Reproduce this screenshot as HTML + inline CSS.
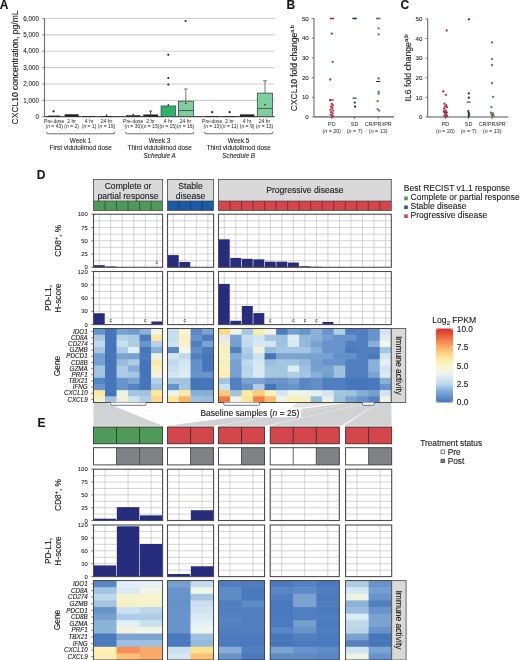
<!DOCTYPE html>
<html><head><meta charset="utf-8"><title>Figure</title>
<style>
html,body{margin:0;padding:0;background:#fff;}
body{width:520px;height:660px;overflow:hidden;}
svg{display:block;}
svg text{font-family:"Liberation Sans", Arial, Helvetica, sans-serif;fill:#231f20;}
svg text.b{fill:#1a1718;stroke:#1a1718;stroke-width:0.1px;}
svg text.m{fill:#1a1718;stroke:#1a1718;stroke-width:0.06px;}
</style></head><body>
<svg width="520" height="660" viewBox="0 0 520 660">
<rect width="520" height="660" fill="#ffffff"/>
<text x="-0.30" y="9.00" font-size="12" font-weight="bold" class="b" >A</text>
<line x1="44.50" y1="100.33" x2="274.60" y2="100.33" stroke="#d0d0d0" stroke-width="1.1" />
<line x1="44.50" y1="83.97" x2="274.60" y2="83.97" stroke="#d0d0d0" stroke-width="1.1" />
<line x1="44.50" y1="67.60" x2="274.60" y2="67.60" stroke="#d0d0d0" stroke-width="1.1" />
<line x1="44.50" y1="51.23" x2="274.60" y2="51.23" stroke="#d0d0d0" stroke-width="1.1" />
<line x1="44.50" y1="34.87" x2="274.60" y2="34.87" stroke="#d0d0d0" stroke-width="1.1" />
<line x1="44.50" y1="18.50" x2="274.60" y2="18.50" stroke="#d0d0d0" stroke-width="1.1" />
<line x1="44.50" y1="18.30" x2="44.50" y2="116.70" stroke="#6d6e71" stroke-width="1.1" />
<line x1="42.30" y1="116.70" x2="44.50" y2="116.70" stroke="#6d6e71" stroke-width="0.9" />
<text x="38.90" y="118.90" font-size="6.3" text-anchor="end" class="m" >0</text>
<line x1="42.30" y1="100.33" x2="44.50" y2="100.33" stroke="#6d6e71" stroke-width="0.9" />
<text x="38.90" y="102.53" font-size="6.3" text-anchor="end" class="m" >1,000</text>
<line x1="42.30" y1="83.97" x2="44.50" y2="83.97" stroke="#6d6e71" stroke-width="0.9" />
<text x="38.90" y="86.17" font-size="6.3" text-anchor="end" class="m" >2,000</text>
<line x1="42.30" y1="67.60" x2="44.50" y2="67.60" stroke="#6d6e71" stroke-width="0.9" />
<text x="38.90" y="69.80" font-size="6.3" text-anchor="end" class="m" >3,000</text>
<line x1="42.30" y1="51.23" x2="44.50" y2="51.23" stroke="#6d6e71" stroke-width="0.9" />
<text x="38.90" y="53.43" font-size="6.3" text-anchor="end" class="m" >4,000</text>
<line x1="42.30" y1="34.87" x2="44.50" y2="34.87" stroke="#6d6e71" stroke-width="0.9" />
<text x="38.90" y="37.07" font-size="6.3" text-anchor="end" class="m" >5,000</text>
<line x1="42.30" y1="18.50" x2="44.50" y2="18.50" stroke="#6d6e71" stroke-width="0.9" />
<text x="38.90" y="20.70" font-size="6.3" text-anchor="end" class="m" >6,000</text>
<line x1="44.50" y1="116.70" x2="274.60" y2="116.70" stroke="#4d4d4f" stroke-width="1.3" />
<text x="18.40" y="67.50" font-size="8.5" text-anchor="middle" transform="rotate(-90 18.40 67.50)" class="b" >CXCL10 concentration, pg/mL</text>
<text x="54.20" y="122.60" font-size="5" text-anchor="middle" >Pre-dose</text>
<text x="54.20" y="128.30" font-size="5" text-anchor="middle" >(<tspan font-style="italic">n</tspan> = 43)</text>
<text x="71.65" y="122.60" font-size="5" text-anchor="middle" >2 hr</text>
<text x="71.65" y="128.30" font-size="5" text-anchor="middle" >(<tspan font-style="italic">n</tspan> = 2)</text>
<text x="89.10" y="122.60" font-size="5" text-anchor="middle" >4 hr</text>
<text x="89.10" y="128.30" font-size="5" text-anchor="middle" >(<tspan font-style="italic">n</tspan> = 1)</text>
<text x="106.55" y="122.60" font-size="5" text-anchor="middle" >24 hr</text>
<text x="106.55" y="128.30" font-size="5" text-anchor="middle" >(<tspan font-style="italic">n</tspan> = 19)</text>
<path d="M46.50 131.8 Q46.50 133.8 48.50 133.8 L112.80 133.8 Q114.80 133.8 114.80 131.8" fill="none" stroke="#58595b" stroke-width="0.9"/>
<text x="133.20" y="122.60" font-size="5" text-anchor="middle" >Pre-dose</text>
<text x="133.20" y="128.30" font-size="5" text-anchor="middle" >(<tspan font-style="italic">n</tspan> = 30)</text>
<text x="150.65" y="122.60" font-size="5" text-anchor="middle" >2 hr</text>
<text x="150.65" y="128.30" font-size="5" text-anchor="middle" >(<tspan font-style="italic">n</tspan> = 15)</text>
<text x="168.10" y="122.60" font-size="5" text-anchor="middle" >4 hr</text>
<text x="168.10" y="128.30" font-size="5" text-anchor="middle" >(<tspan font-style="italic">n</tspan> = 15)</text>
<text x="185.55" y="122.60" font-size="5" text-anchor="middle" >24 hr</text>
<text x="185.55" y="128.30" font-size="5" text-anchor="middle" >(<tspan font-style="italic">n</tspan> = 16)</text>
<path d="M125.50 131.8 Q125.50 133.8 127.50 133.8 L191.80 133.8 Q193.80 133.8 193.80 131.8" fill="none" stroke="#58595b" stroke-width="0.9"/>
<text x="212.20" y="122.60" font-size="5" text-anchor="middle" >Pre-dose</text>
<text x="212.20" y="128.30" font-size="5" text-anchor="middle" >(<tspan font-style="italic">n</tspan> = 13)</text>
<text x="229.65" y="122.60" font-size="5" text-anchor="middle" >2 hr</text>
<text x="229.65" y="128.30" font-size="5" text-anchor="middle" >(<tspan font-style="italic">n</tspan> = 11)</text>
<text x="247.10" y="122.60" font-size="5" text-anchor="middle" >4 hr</text>
<text x="247.10" y="128.30" font-size="5" text-anchor="middle" >(<tspan font-style="italic">n</tspan> = 9)</text>
<text x="264.55" y="122.60" font-size="5" text-anchor="middle" >24 hr</text>
<text x="264.55" y="128.30" font-size="5" text-anchor="middle" >(<tspan font-style="italic">n</tspan> = 13)</text>
<path d="M204.50 131.8 Q204.50 133.8 206.50 133.8 L270.80 133.8 Q272.80 133.8 272.80 131.8" fill="none" stroke="#58595b" stroke-width="0.9"/>
<text x="80.65" y="142.50" font-size="6.4" text-anchor="middle" class="m" >Week 1</text>
<text x="80.65" y="150.00" font-size="6.4" text-anchor="middle" class="m" >First vidutolimod dose</text>
<text x="159.65" y="142.50" font-size="6.4" text-anchor="middle" class="m" >Week 3</text>
<text x="159.65" y="150.00" font-size="6.4" text-anchor="middle" class="m" >Third vidutolimod dose</text>
<text x="159.65" y="157.90" font-size="6.4" text-anchor="middle" font-style="italic" class="m" >Schedule A</text>
<text x="238.65" y="142.50" font-size="6.4" text-anchor="middle" class="m" >Week 5</text>
<text x="238.65" y="150.00" font-size="6.4" text-anchor="middle" class="m" >Third vidutolimod dose</text>
<text x="238.65" y="157.90" font-size="6.4" text-anchor="middle" font-style="italic" class="m" >Schedule B</text>
<circle cx="53.50" cy="111.30" r="1.1" fill="#231f20"/>
<rect x="48.20" y="115.60" width="12.00" height="1.10" fill="#231f20" />
<rect x="64.65" y="114.30" width="14.00" height="2.40" fill="#231f20" />
<rect x="83.10" y="116.00" width="12.00" height="0.70" fill="#231f20" />
<rect x="100.55" y="116.00" width="12.00" height="0.70" fill="#231f20" />
<circle cx="106.55" cy="115.40" r="0.8" fill="#231f20"/>
<rect x="126.00" y="115.30" width="14.40" height="1.40" fill="#231f20" />
<circle cx="133.20" cy="114.60" r="0.8" fill="#231f20"/>
<rect x="143.25" y="114.50" width="14.80" height="2.20" fill="#231f20" />
<line x1="150.65" y1="114.50" x2="150.65" y2="111.00" stroke="#231f20" stroke-width="0.8" />
<line x1="149.15" y1="111.00" x2="152.15" y2="111.00" stroke="#231f20" stroke-width="0.8" />
<rect x="161.10" y="106.00" width="14.60" height="10.60" fill="#2db36b" stroke="#3d4a42" stroke-width="0.8" />
<circle cx="168.30" cy="104.90" r="0.8" fill="#231f20"/>
<circle cx="168.30" cy="54.70" r="1.05" fill="#231f20"/>
<circle cx="168.30" cy="78.00" r="1.05" fill="#231f20"/>
<circle cx="168.30" cy="84.50" r="1.05" fill="#231f20"/>
<rect x="178.40" y="101.20" width="15.00" height="15.40" fill="#7fcf9e" stroke="#3d4a42" stroke-width="0.8" />
<line x1="178.40" y1="110.50" x2="193.40" y2="110.50" stroke="#3d4a42" stroke-width="0.8" />
<line x1="185.80" y1="101.20" x2="185.80" y2="89.00" stroke="#58595b" stroke-width="0.8" />
<line x1="183.80" y1="89.00" x2="187.80" y2="89.00" stroke="#58595b" stroke-width="0.8" />
<circle cx="185.80" cy="103.30" r="0.8" fill="#231f20"/>
<circle cx="185.60" cy="21.00" r="1.05" fill="#231f20"/>
<rect x="205.70" y="116.00" width="13.00" height="0.70" fill="#231f20" />
<circle cx="212.20" cy="112.20" r="1.1" fill="#231f20"/>
<rect x="223.15" y="116.00" width="13.00" height="0.70" fill="#231f20" />
<circle cx="229.65" cy="112.20" r="1.1" fill="#231f20"/>
<rect x="239.90" y="114.40" width="14.40" height="2.30" fill="#231f20" />
<rect x="257.30" y="93.10" width="15.30" height="23.50" fill="#7fcf9e" stroke="#3d4a42" stroke-width="0.8" />
<line x1="257.30" y1="108.50" x2="272.60" y2="108.50" stroke="#3d4a42" stroke-width="0.8" />
<line x1="265.00" y1="93.10" x2="265.00" y2="80.80" stroke="#58595b" stroke-width="0.8" />
<line x1="263.00" y1="80.80" x2="267.00" y2="80.80" stroke="#58595b" stroke-width="0.8" />
<circle cx="265.00" cy="104.60" r="0.8" fill="#231f20"/>
<text x="286.60" y="9.00" font-size="12" font-weight="bold" class="b" >B</text>
<line x1="314.00" y1="18.30" x2="314.00" y2="116.90" stroke="#6d6e71" stroke-width="1.1" />
<line x1="311.80" y1="116.90" x2="314.00" y2="116.90" stroke="#6d6e71" stroke-width="0.9" />
<text x="308.80" y="119.10" font-size="6.2" text-anchor="end" class="m" >0</text>
<line x1="311.80" y1="97.22" x2="314.00" y2="97.22" stroke="#6d6e71" stroke-width="0.9" />
<text x="308.80" y="99.42" font-size="6.2" text-anchor="end" class="m" >10</text>
<line x1="311.80" y1="77.54" x2="314.00" y2="77.54" stroke="#6d6e71" stroke-width="0.9" />
<text x="308.80" y="79.74" font-size="6.2" text-anchor="end" class="m" >20</text>
<line x1="311.80" y1="57.86" x2="314.00" y2="57.86" stroke="#6d6e71" stroke-width="0.9" />
<text x="308.80" y="60.06" font-size="6.2" text-anchor="end" class="m" >30</text>
<line x1="311.80" y1="38.18" x2="314.00" y2="38.18" stroke="#6d6e71" stroke-width="0.9" />
<text x="308.80" y="40.38" font-size="6.2" text-anchor="end" class="m" >40</text>
<line x1="311.80" y1="18.50" x2="314.00" y2="18.50" stroke="#6d6e71" stroke-width="0.9" />
<text x="308.80" y="20.70" font-size="6.2" text-anchor="end" class="m" >50</text>
<line x1="314.00" y1="116.90" x2="394.00" y2="116.90" stroke="#58595b" stroke-width="1.1" />
<line x1="331.80" y1="116.90" x2="331.80" y2="118.90" stroke="#58595b" stroke-width="0.9" />
<text x="331.80" y="125.60" font-size="5.4" text-anchor="middle" >PD</text>
<text x="331.80" y="133.00" font-size="5.4" text-anchor="middle" >(<tspan font-style="italic">n</tspan> = 20)</text>
<line x1="354.60" y1="116.90" x2="354.60" y2="118.90" stroke="#58595b" stroke-width="0.9" />
<text x="354.60" y="125.60" font-size="5.4" text-anchor="middle" >SD</text>
<text x="354.60" y="133.00" font-size="5.4" text-anchor="middle" >(<tspan font-style="italic">n</tspan> = 7)</text>
<line x1="378.20" y1="116.90" x2="378.20" y2="118.90" stroke="#58595b" stroke-width="0.9" />
<text x="378.20" y="125.60" font-size="5.4" text-anchor="middle" >CR/PR/iPR</text>
<text x="378.20" y="133.00" font-size="5.4" text-anchor="middle" >(<tspan font-style="italic">n</tspan> = 13)</text>
<rect x="329.60" y="17.70" width="4.40" height="1.60" fill="#c02a3e" />
<circle cx="331.80" cy="33.65" r="1.15" fill="#c02a3e"/>
<circle cx="332.60" cy="61.80" r="1.15" fill="#c02a3e"/>
<circle cx="330.30" cy="79.51" r="1.15" fill="#c02a3e"/>
<circle cx="330.00" cy="100.17" r="1.15" fill="#c02a3e"/>
<circle cx="331.80" cy="103.91" r="1.15" fill="#c02a3e"/>
<circle cx="332.80" cy="105.49" r="1.15" fill="#c02a3e"/>
<circle cx="331.00" cy="106.67" r="1.15" fill="#c02a3e"/>
<circle cx="332.20" cy="108.24" r="1.15" fill="#c02a3e"/>
<circle cx="330.40" cy="109.82" r="1.15" fill="#c02a3e"/>
<circle cx="333.20" cy="110.60" r="1.15" fill="#c02a3e"/>
<circle cx="331.20" cy="112.18" r="1.15" fill="#c02a3e"/>
<circle cx="332.60" cy="113.36" r="1.15" fill="#c02a3e"/>
<circle cx="330.60" cy="114.54" r="1.15" fill="#c02a3e"/>
<circle cx="332.20" cy="115.72" r="1.15" fill="#c02a3e"/>
<circle cx="333.00" cy="116.51" r="1.15" fill="#c02a3e"/>
<rect x="352.40" y="17.70" width="4.40" height="1.60" fill="#1b3773" />
<circle cx="354.80" cy="102.53" r="1.15" fill="#1b3773"/>
<circle cx="355.10" cy="106.67" r="1.15" fill="#1b3773"/>
<rect x="376.00" y="17.70" width="4.40" height="1.60" fill="#4f7a54" />
<circle cx="378.60" cy="28.34" r="1.15" fill="#4f7a54"/>
<circle cx="378.60" cy="34.44" r="1.15" fill="#4f7a54"/>
<circle cx="378.60" cy="78.52" r="1.15" fill="#4f7a54"/>
<circle cx="378.60" cy="91.71" r="1.15" fill="#4f7a54"/>
<circle cx="378.60" cy="93.68" r="1.15" fill="#4f7a54"/>
<circle cx="377.60" cy="101.16" r="1.15" fill="#4f7a54"/>
<circle cx="377.60" cy="109.03" r="1.15" fill="#4f7a54"/>
<circle cx="379.10" cy="110.60" r="1.15" fill="#4f7a54"/>
<line x1="329.80" y1="99.98" x2="333.80" y2="99.98" stroke="#231f20" stroke-width="1.0" />
<line x1="352.60" y1="98.20" x2="356.60" y2="98.20" stroke="#231f20" stroke-width="1.0" />
<line x1="376.20" y1="81.48" x2="380.20" y2="81.48" stroke="#231f20" stroke-width="1.0" />
<text x="297.40" y="68.20" font-size="8.5" text-anchor="middle" transform="rotate(-90 297.40 68.20)" class="b" >CXCL10 fold change<tspan font-size="5.5" dy="-3">a,b</tspan></text>
<text x="400.60" y="9.00" font-size="12" font-weight="bold" class="b" >C</text>
<line x1="427.70" y1="18.70" x2="427.70" y2="117.00" stroke="#6d6e71" stroke-width="1.1" />
<line x1="425.50" y1="117.00" x2="427.70" y2="117.00" stroke="#6d6e71" stroke-width="0.9" />
<text x="422.50" y="119.20" font-size="6.2" text-anchor="end" class="m" >0</text>
<line x1="425.50" y1="97.38" x2="427.70" y2="97.38" stroke="#6d6e71" stroke-width="0.9" />
<text x="422.50" y="99.58" font-size="6.2" text-anchor="end" class="m" >10</text>
<line x1="425.50" y1="77.76" x2="427.70" y2="77.76" stroke="#6d6e71" stroke-width="0.9" />
<text x="422.50" y="79.96" font-size="6.2" text-anchor="end" class="m" >20</text>
<line x1="425.50" y1="58.14" x2="427.70" y2="58.14" stroke="#6d6e71" stroke-width="0.9" />
<text x="422.50" y="60.34" font-size="6.2" text-anchor="end" class="m" >30</text>
<line x1="425.50" y1="38.52" x2="427.70" y2="38.52" stroke="#6d6e71" stroke-width="0.9" />
<text x="422.50" y="40.72" font-size="6.2" text-anchor="end" class="m" >40</text>
<line x1="425.50" y1="18.90" x2="427.70" y2="18.90" stroke="#6d6e71" stroke-width="0.9" />
<text x="422.50" y="21.10" font-size="6.2" text-anchor="end" class="m" >50</text>
<line x1="427.70" y1="117.00" x2="508.50" y2="117.00" stroke="#58595b" stroke-width="1.1" />
<line x1="445.40" y1="117.00" x2="445.40" y2="119.00" stroke="#58595b" stroke-width="0.9" />
<text x="445.40" y="125.60" font-size="5.4" text-anchor="middle" >PD</text>
<text x="445.40" y="133.00" font-size="5.4" text-anchor="middle" >(<tspan font-style="italic">n</tspan> = 20)</text>
<line x1="468.60" y1="117.00" x2="468.60" y2="119.00" stroke="#58595b" stroke-width="0.9" />
<text x="468.60" y="125.60" font-size="5.4" text-anchor="middle" >SD</text>
<text x="468.60" y="133.00" font-size="5.4" text-anchor="middle" >(<tspan font-style="italic">n</tspan> = 7)</text>
<line x1="492.20" y1="117.00" x2="492.20" y2="119.00" stroke="#58595b" stroke-width="0.9" />
<text x="492.20" y="125.60" font-size="5.4" text-anchor="middle" >CR/PR/iPR</text>
<text x="492.20" y="133.00" font-size="5.4" text-anchor="middle" >(<tspan font-style="italic">n</tspan> = 13)</text>
<circle cx="446.70" cy="30.48" r="1.15" fill="#c02a3e"/>
<circle cx="443.40" cy="91.49" r="1.15" fill="#c02a3e"/>
<circle cx="445.90" cy="94.83" r="1.15" fill="#c02a3e"/>
<circle cx="444.40" cy="103.66" r="1.15" fill="#c02a3e"/>
<circle cx="446.20" cy="105.23" r="1.15" fill="#c02a3e"/>
<circle cx="444.90" cy="106.60" r="1.15" fill="#c02a3e"/>
<circle cx="446.90" cy="107.19" r="1.15" fill="#c02a3e"/>
<circle cx="444.20" cy="108.76" r="1.15" fill="#c02a3e"/>
<circle cx="445.70" cy="110.53" r="1.15" fill="#c02a3e"/>
<circle cx="443.90" cy="111.51" r="1.15" fill="#c02a3e"/>
<circle cx="446.60" cy="112.68" r="1.15" fill="#c02a3e"/>
<circle cx="445.10" cy="113.86" r="1.15" fill="#c02a3e"/>
<circle cx="446.30" cy="114.84" r="1.15" fill="#c02a3e"/>
<circle cx="444.30" cy="115.82" r="1.15" fill="#c02a3e"/>
<circle cx="445.80" cy="116.61" r="1.15" fill="#c02a3e"/>
<circle cx="447.00" cy="116.02" r="1.15" fill="#c02a3e"/>
<circle cx="468.90" cy="19.29" r="1.15" fill="#1b3773"/>
<circle cx="468.80" cy="93.46" r="1.15" fill="#1b3773"/>
<circle cx="468.80" cy="97.77" r="1.15" fill="#1b3773"/>
<circle cx="468.30" cy="111.11" r="1.15" fill="#1b3773"/>
<circle cx="468.70" cy="112.88" r="1.15" fill="#1b3773"/>
<circle cx="469.10" cy="114.45" r="1.15" fill="#1b3773"/>
<circle cx="468.70" cy="116.02" r="1.15" fill="#1b3773"/>
<circle cx="491.90" cy="42.44" r="1.15" fill="#4f7a54"/>
<circle cx="491.90" cy="59.12" r="1.15" fill="#4f7a54"/>
<circle cx="491.90" cy="65.01" r="1.15" fill="#4f7a54"/>
<circle cx="491.90" cy="83.25" r="1.15" fill="#4f7a54"/>
<circle cx="493.20" cy="96.79" r="1.15" fill="#4f7a54"/>
<circle cx="491.40" cy="107.19" r="1.15" fill="#4f7a54"/>
<circle cx="491.00" cy="112.68" r="1.15" fill="#4f7a54"/>
<circle cx="493.00" cy="113.47" r="1.15" fill="#4f7a54"/>
<circle cx="491.80" cy="114.65" r="1.15" fill="#4f7a54"/>
<circle cx="493.60" cy="115.43" r="1.15" fill="#4f7a54"/>
<circle cx="492.40" cy="116.02" r="1.15" fill="#4f7a54"/>
<line x1="443.40" y1="112.09" x2="447.40" y2="112.09" stroke="#231f20" stroke-width="1.0" />
<line x1="466.60" y1="102.09" x2="470.60" y2="102.09" stroke="#231f20" stroke-width="1.0" />
<text x="411.40" y="67.90" font-size="8.7" text-anchor="middle" transform="rotate(-90 411.40 67.90)" class="b" >IL6 fold change<tspan font-size="5.6" dy="-3">a,b</tspan></text>
<text x="36.80" y="179.40" font-size="12" font-weight="bold" class="b" >D</text>
<rect x="93.50" y="179.50" width="69.12" height="31.00" fill="#d9d9d9" />
<rect x="93.50" y="201.00" width="69.12" height="9.50" fill="#4f9a58" />
<line x1="105.02" y1="201.00" x2="105.02" y2="210.50" stroke="#2b2b2b" stroke-width="0.6" />
<line x1="116.54" y1="201.00" x2="116.54" y2="210.50" stroke="#2b2b2b" stroke-width="0.6" />
<line x1="128.06" y1="201.00" x2="128.06" y2="210.50" stroke="#2b2b2b" stroke-width="0.6" />
<line x1="139.58" y1="201.00" x2="139.58" y2="210.50" stroke="#2b2b2b" stroke-width="0.6" />
<line x1="151.10" y1="201.00" x2="151.10" y2="210.50" stroke="#2b2b2b" stroke-width="0.6" />
<rect x="93.50" y="179.50" width="69.12" height="31.00" fill="none" stroke="#58595b" stroke-width="0.9" />
<line x1="93.50" y1="201.00" x2="162.62" y2="201.00" stroke="#3a3a3a" stroke-width="0.6" />
<text x="128.06" y="188.50" font-size="8.6" text-anchor="middle" class="b" >Complete or</text>
<text x="128.06" y="198.50" font-size="8.6" text-anchor="middle" class="b" >partial response</text>
<rect x="167.50" y="179.50" width="46.08" height="31.00" fill="#d9d9d9" />
<rect x="167.50" y="201.00" width="46.08" height="9.50" fill="#1a5aa6" />
<line x1="179.02" y1="201.00" x2="179.02" y2="210.50" stroke="#2b2b2b" stroke-width="0.6" />
<line x1="190.54" y1="201.00" x2="190.54" y2="210.50" stroke="#2b2b2b" stroke-width="0.6" />
<line x1="202.06" y1="201.00" x2="202.06" y2="210.50" stroke="#2b2b2b" stroke-width="0.6" />
<rect x="167.50" y="179.50" width="46.08" height="31.00" fill="none" stroke="#58595b" stroke-width="0.9" />
<line x1="167.50" y1="201.00" x2="213.58" y2="201.00" stroke="#3a3a3a" stroke-width="0.6" />
<text x="190.54" y="188.50" font-size="8.6" text-anchor="middle" class="b" >Stable</text>
<text x="190.54" y="198.50" font-size="8.6" text-anchor="middle" class="b" >disease</text>
<rect x="218.50" y="179.50" width="172.80" height="31.00" fill="#d9d9d9" />
<rect x="218.50" y="201.00" width="172.80" height="9.50" fill="#d4464b" />
<line x1="230.02" y1="201.00" x2="230.02" y2="210.50" stroke="#2b2b2b" stroke-width="0.6" />
<line x1="241.54" y1="201.00" x2="241.54" y2="210.50" stroke="#2b2b2b" stroke-width="0.6" />
<line x1="253.06" y1="201.00" x2="253.06" y2="210.50" stroke="#2b2b2b" stroke-width="0.6" />
<line x1="264.58" y1="201.00" x2="264.58" y2="210.50" stroke="#2b2b2b" stroke-width="0.6" />
<line x1="276.10" y1="201.00" x2="276.10" y2="210.50" stroke="#2b2b2b" stroke-width="0.6" />
<line x1="287.62" y1="201.00" x2="287.62" y2="210.50" stroke="#2b2b2b" stroke-width="0.6" />
<line x1="299.14" y1="201.00" x2="299.14" y2="210.50" stroke="#2b2b2b" stroke-width="0.6" />
<line x1="310.66" y1="201.00" x2="310.66" y2="210.50" stroke="#2b2b2b" stroke-width="0.6" />
<line x1="322.18" y1="201.00" x2="322.18" y2="210.50" stroke="#2b2b2b" stroke-width="0.6" />
<line x1="333.70" y1="201.00" x2="333.70" y2="210.50" stroke="#2b2b2b" stroke-width="0.6" />
<line x1="345.22" y1="201.00" x2="345.22" y2="210.50" stroke="#2b2b2b" stroke-width="0.6" />
<line x1="356.74" y1="201.00" x2="356.74" y2="210.50" stroke="#2b2b2b" stroke-width="0.6" />
<line x1="368.26" y1="201.00" x2="368.26" y2="210.50" stroke="#2b2b2b" stroke-width="0.6" />
<line x1="379.78" y1="201.00" x2="379.78" y2="210.50" stroke="#2b2b2b" stroke-width="0.6" />
<rect x="218.50" y="179.50" width="172.80" height="31.00" fill="none" stroke="#58595b" stroke-width="0.9" />
<line x1="218.50" y1="201.00" x2="391.30" y2="201.00" stroke="#3a3a3a" stroke-width="0.6" />
<text x="304.90" y="193.30" font-size="8.6" text-anchor="middle" class="b" >Progressive disease</text>
<text x="403.80" y="190.60" font-size="8.5" class="b" >Best RECIST v1.1 response</text>
<rect x="404.20" y="196.60" width="3.60" height="3.60" fill="#4f9a58" />
<text x="410.60" y="200.40" font-size="8.5" class="b" >Complete or partial response</text>
<rect x="404.20" y="205.50" width="3.60" height="3.60" fill="#1a5aa6" />
<text x="410.60" y="209.30" font-size="8.5" class="b" >Stable disease</text>
<rect x="404.20" y="214.40" width="3.60" height="3.60" fill="#d4464b" />
<text x="410.60" y="218.20" font-size="8.5" class="b" >Progressive disease</text>
<rect x="93.50" y="214.20" width="69.12" height="53.10" fill="#ffffff" />
<line x1="93.50" y1="260.66" x2="162.62" y2="260.66" stroke="#c2c2c2" stroke-width="0.7" />
<line x1="93.50" y1="254.03" x2="162.62" y2="254.03" stroke="#c2c2c2" stroke-width="0.7" />
<line x1="93.50" y1="247.39" x2="162.62" y2="247.39" stroke="#c2c2c2" stroke-width="0.7" />
<line x1="93.50" y1="240.75" x2="162.62" y2="240.75" stroke="#c2c2c2" stroke-width="0.7" />
<line x1="93.50" y1="234.11" x2="162.62" y2="234.11" stroke="#c2c2c2" stroke-width="0.7" />
<line x1="93.50" y1="227.47" x2="162.62" y2="227.47" stroke="#c2c2c2" stroke-width="0.7" />
<line x1="93.50" y1="220.84" x2="162.62" y2="220.84" stroke="#c2c2c2" stroke-width="0.7" />
<line x1="99.26" y1="214.20" x2="99.26" y2="267.30" stroke="#c2c2c2" stroke-width="0.7" />
<line x1="110.78" y1="214.20" x2="110.78" y2="267.30" stroke="#c2c2c2" stroke-width="0.7" />
<line x1="122.30" y1="214.20" x2="122.30" y2="267.30" stroke="#c2c2c2" stroke-width="0.7" />
<line x1="133.82" y1="214.20" x2="133.82" y2="267.30" stroke="#c2c2c2" stroke-width="0.7" />
<line x1="145.34" y1="214.20" x2="145.34" y2="267.30" stroke="#c2c2c2" stroke-width="0.7" />
<line x1="156.86" y1="214.20" x2="156.86" y2="267.30" stroke="#c2c2c2" stroke-width="0.7" />
<rect x="93.80" y="265.18" width="10.92" height="2.12" fill="#262d7d" />
<rect x="105.32" y="266.50" width="10.92" height="0.80" fill="#262d7d" />
<rect x="116.84" y="267.09" width="10.92" height="0.21" fill="#262d7d" />
<text x="156.86" y="264.30" font-size="5.0" text-anchor="middle" >c</text>
<rect x="93.50" y="214.20" width="69.12" height="53.10" fill="none" stroke="#4d4d4f" stroke-width="1.1" />
<rect x="167.50" y="214.20" width="46.08" height="53.10" fill="#ffffff" />
<line x1="167.50" y1="260.66" x2="213.58" y2="260.66" stroke="#c2c2c2" stroke-width="0.7" />
<line x1="167.50" y1="254.03" x2="213.58" y2="254.03" stroke="#c2c2c2" stroke-width="0.7" />
<line x1="167.50" y1="247.39" x2="213.58" y2="247.39" stroke="#c2c2c2" stroke-width="0.7" />
<line x1="167.50" y1="240.75" x2="213.58" y2="240.75" stroke="#c2c2c2" stroke-width="0.7" />
<line x1="167.50" y1="234.11" x2="213.58" y2="234.11" stroke="#c2c2c2" stroke-width="0.7" />
<line x1="167.50" y1="227.47" x2="213.58" y2="227.47" stroke="#c2c2c2" stroke-width="0.7" />
<line x1="167.50" y1="220.84" x2="213.58" y2="220.84" stroke="#c2c2c2" stroke-width="0.7" />
<line x1="173.26" y1="214.20" x2="173.26" y2="267.30" stroke="#c2c2c2" stroke-width="0.7" />
<line x1="184.78" y1="214.20" x2="184.78" y2="267.30" stroke="#c2c2c2" stroke-width="0.7" />
<line x1="196.30" y1="214.20" x2="196.30" y2="267.30" stroke="#c2c2c2" stroke-width="0.7" />
<line x1="207.82" y1="214.20" x2="207.82" y2="267.30" stroke="#c2c2c2" stroke-width="0.7" />
<rect x="167.80" y="255.09" width="10.92" height="12.21" fill="#262d7d" />
<rect x="179.32" y="261.99" width="10.92" height="5.31" fill="#262d7d" />
<rect x="167.50" y="214.20" width="46.08" height="53.10" fill="none" stroke="#4d4d4f" stroke-width="1.1" />
<rect x="218.50" y="214.20" width="172.80" height="53.10" fill="#ffffff" />
<line x1="218.50" y1="260.66" x2="391.30" y2="260.66" stroke="#c2c2c2" stroke-width="0.7" />
<line x1="218.50" y1="254.03" x2="391.30" y2="254.03" stroke="#c2c2c2" stroke-width="0.7" />
<line x1="218.50" y1="247.39" x2="391.30" y2="247.39" stroke="#c2c2c2" stroke-width="0.7" />
<line x1="218.50" y1="240.75" x2="391.30" y2="240.75" stroke="#c2c2c2" stroke-width="0.7" />
<line x1="218.50" y1="234.11" x2="391.30" y2="234.11" stroke="#c2c2c2" stroke-width="0.7" />
<line x1="218.50" y1="227.47" x2="391.30" y2="227.47" stroke="#c2c2c2" stroke-width="0.7" />
<line x1="218.50" y1="220.84" x2="391.30" y2="220.84" stroke="#c2c2c2" stroke-width="0.7" />
<line x1="224.26" y1="214.20" x2="224.26" y2="267.30" stroke="#c2c2c2" stroke-width="0.7" />
<line x1="235.78" y1="214.20" x2="235.78" y2="267.30" stroke="#c2c2c2" stroke-width="0.7" />
<line x1="247.30" y1="214.20" x2="247.30" y2="267.30" stroke="#c2c2c2" stroke-width="0.7" />
<line x1="258.82" y1="214.20" x2="258.82" y2="267.30" stroke="#c2c2c2" stroke-width="0.7" />
<line x1="270.34" y1="214.20" x2="270.34" y2="267.30" stroke="#c2c2c2" stroke-width="0.7" />
<line x1="281.86" y1="214.20" x2="281.86" y2="267.30" stroke="#c2c2c2" stroke-width="0.7" />
<line x1="293.38" y1="214.20" x2="293.38" y2="267.30" stroke="#c2c2c2" stroke-width="0.7" />
<line x1="304.90" y1="214.20" x2="304.90" y2="267.30" stroke="#c2c2c2" stroke-width="0.7" />
<line x1="316.42" y1="214.20" x2="316.42" y2="267.30" stroke="#c2c2c2" stroke-width="0.7" />
<line x1="327.94" y1="214.20" x2="327.94" y2="267.30" stroke="#c2c2c2" stroke-width="0.7" />
<line x1="339.46" y1="214.20" x2="339.46" y2="267.30" stroke="#c2c2c2" stroke-width="0.7" />
<line x1="350.98" y1="214.20" x2="350.98" y2="267.30" stroke="#c2c2c2" stroke-width="0.7" />
<line x1="362.50" y1="214.20" x2="362.50" y2="267.30" stroke="#c2c2c2" stroke-width="0.7" />
<line x1="374.02" y1="214.20" x2="374.02" y2="267.30" stroke="#c2c2c2" stroke-width="0.7" />
<line x1="385.54" y1="214.20" x2="385.54" y2="267.30" stroke="#c2c2c2" stroke-width="0.7" />
<rect x="218.80" y="239.32" width="10.92" height="27.98" fill="#262d7d" />
<rect x="230.32" y="257.95" width="10.92" height="9.35" fill="#262d7d" />
<rect x="241.84" y="258.80" width="10.92" height="8.50" fill="#262d7d" />
<rect x="253.36" y="259.34" width="10.92" height="7.97" fill="#262d7d" />
<rect x="264.88" y="261.67" width="10.92" height="5.63" fill="#262d7d" />
<rect x="276.40" y="261.67" width="10.92" height="5.63" fill="#262d7d" />
<rect x="287.92" y="262.52" width="10.92" height="4.78" fill="#262d7d" />
<rect x="299.44" y="266.24" width="10.92" height="1.06" fill="#262d7d" />
<rect x="310.96" y="266.77" width="10.92" height="0.53" fill="#262d7d" />
<rect x="322.48" y="267.03" width="10.92" height="0.27" fill="#262d7d" />
<rect x="334.00" y="267.14" width="10.92" height="0.16" fill="#262d7d" />
<rect x="218.50" y="214.20" width="172.80" height="53.10" fill="none" stroke="#4d4d4f" stroke-width="1.1" />
<line x1="91.30" y1="267.30" x2="93.50" y2="267.30" stroke="#58595b" stroke-width="0.8" />
<text x="87.70" y="269.40" font-size="5.9" text-anchor="end" class="m" >0</text>
<line x1="91.30" y1="254.03" x2="93.50" y2="254.03" stroke="#58595b" stroke-width="0.8" />
<text x="87.70" y="256.12" font-size="5.9" text-anchor="end" class="m" >25</text>
<line x1="91.30" y1="240.75" x2="93.50" y2="240.75" stroke="#58595b" stroke-width="0.8" />
<text x="87.70" y="242.85" font-size="5.9" text-anchor="end" class="m" >50</text>
<line x1="91.30" y1="227.47" x2="93.50" y2="227.47" stroke="#58595b" stroke-width="0.8" />
<text x="87.70" y="229.57" font-size="5.9" text-anchor="end" class="m" >75</text>
<line x1="91.30" y1="214.20" x2="93.50" y2="214.20" stroke="#58595b" stroke-width="0.8" />
<text x="87.70" y="216.30" font-size="5.9" text-anchor="end" class="m" >100</text>
<rect x="93.50" y="271.50" width="69.12" height="53.10" fill="#ffffff" />
<line x1="93.50" y1="317.96" x2="162.62" y2="317.96" stroke="#c2c2c2" stroke-width="0.7" />
<line x1="93.50" y1="311.33" x2="162.62" y2="311.33" stroke="#c2c2c2" stroke-width="0.7" />
<line x1="93.50" y1="304.69" x2="162.62" y2="304.69" stroke="#c2c2c2" stroke-width="0.7" />
<line x1="93.50" y1="298.05" x2="162.62" y2="298.05" stroke="#c2c2c2" stroke-width="0.7" />
<line x1="93.50" y1="291.41" x2="162.62" y2="291.41" stroke="#c2c2c2" stroke-width="0.7" />
<line x1="93.50" y1="284.77" x2="162.62" y2="284.77" stroke="#c2c2c2" stroke-width="0.7" />
<line x1="93.50" y1="278.14" x2="162.62" y2="278.14" stroke="#c2c2c2" stroke-width="0.7" />
<line x1="99.26" y1="271.50" x2="99.26" y2="324.60" stroke="#c2c2c2" stroke-width="0.7" />
<line x1="110.78" y1="271.50" x2="110.78" y2="324.60" stroke="#c2c2c2" stroke-width="0.7" />
<line x1="122.30" y1="271.50" x2="122.30" y2="324.60" stroke="#c2c2c2" stroke-width="0.7" />
<line x1="133.82" y1="271.50" x2="133.82" y2="324.60" stroke="#c2c2c2" stroke-width="0.7" />
<line x1="145.34" y1="271.50" x2="145.34" y2="324.60" stroke="#c2c2c2" stroke-width="0.7" />
<line x1="156.86" y1="271.50" x2="156.86" y2="324.60" stroke="#c2c2c2" stroke-width="0.7" />
<rect x="93.80" y="313.27" width="10.92" height="11.33" fill="#262d7d" />
<rect x="116.84" y="324.25" width="10.92" height="0.35" fill="#262d7d" />
<rect x="128.36" y="324.25" width="10.92" height="0.35" fill="#262d7d" />
<rect x="151.40" y="321.50" width="10.92" height="3.10" fill="#262d7d" />
<text x="110.78" y="321.60" font-size="5.0" text-anchor="middle" >c</text>
<text x="145.34" y="321.60" font-size="5.0" text-anchor="middle" >c</text>
<rect x="93.50" y="271.50" width="69.12" height="53.10" fill="none" stroke="#4d4d4f" stroke-width="1.1" />
<rect x="167.50" y="271.50" width="46.08" height="53.10" fill="#ffffff" />
<line x1="167.50" y1="317.96" x2="213.58" y2="317.96" stroke="#c2c2c2" stroke-width="0.7" />
<line x1="167.50" y1="311.33" x2="213.58" y2="311.33" stroke="#c2c2c2" stroke-width="0.7" />
<line x1="167.50" y1="304.69" x2="213.58" y2="304.69" stroke="#c2c2c2" stroke-width="0.7" />
<line x1="167.50" y1="298.05" x2="213.58" y2="298.05" stroke="#c2c2c2" stroke-width="0.7" />
<line x1="167.50" y1="291.41" x2="213.58" y2="291.41" stroke="#c2c2c2" stroke-width="0.7" />
<line x1="167.50" y1="284.77" x2="213.58" y2="284.77" stroke="#c2c2c2" stroke-width="0.7" />
<line x1="167.50" y1="278.14" x2="213.58" y2="278.14" stroke="#c2c2c2" stroke-width="0.7" />
<line x1="173.26" y1="271.50" x2="173.26" y2="324.60" stroke="#c2c2c2" stroke-width="0.7" />
<line x1="184.78" y1="271.50" x2="184.78" y2="324.60" stroke="#c2c2c2" stroke-width="0.7" />
<line x1="196.30" y1="271.50" x2="196.30" y2="324.60" stroke="#c2c2c2" stroke-width="0.7" />
<line x1="207.82" y1="271.50" x2="207.82" y2="324.60" stroke="#c2c2c2" stroke-width="0.7" />
<text x="184.78" y="321.60" font-size="5.0" text-anchor="middle" >c</text>
<rect x="167.50" y="271.50" width="46.08" height="53.10" fill="none" stroke="#4d4d4f" stroke-width="1.1" />
<rect x="218.50" y="271.50" width="172.80" height="53.10" fill="#ffffff" />
<line x1="218.50" y1="317.96" x2="391.30" y2="317.96" stroke="#c2c2c2" stroke-width="0.7" />
<line x1="218.50" y1="311.33" x2="391.30" y2="311.33" stroke="#c2c2c2" stroke-width="0.7" />
<line x1="218.50" y1="304.69" x2="391.30" y2="304.69" stroke="#c2c2c2" stroke-width="0.7" />
<line x1="218.50" y1="298.05" x2="391.30" y2="298.05" stroke="#c2c2c2" stroke-width="0.7" />
<line x1="218.50" y1="291.41" x2="391.30" y2="291.41" stroke="#c2c2c2" stroke-width="0.7" />
<line x1="218.50" y1="284.77" x2="391.30" y2="284.77" stroke="#c2c2c2" stroke-width="0.7" />
<line x1="218.50" y1="278.14" x2="391.30" y2="278.14" stroke="#c2c2c2" stroke-width="0.7" />
<line x1="224.26" y1="271.50" x2="224.26" y2="324.60" stroke="#c2c2c2" stroke-width="0.7" />
<line x1="235.78" y1="271.50" x2="235.78" y2="324.60" stroke="#c2c2c2" stroke-width="0.7" />
<line x1="247.30" y1="271.50" x2="247.30" y2="324.60" stroke="#c2c2c2" stroke-width="0.7" />
<line x1="258.82" y1="271.50" x2="258.82" y2="324.60" stroke="#c2c2c2" stroke-width="0.7" />
<line x1="270.34" y1="271.50" x2="270.34" y2="324.60" stroke="#c2c2c2" stroke-width="0.7" />
<line x1="281.86" y1="271.50" x2="281.86" y2="324.60" stroke="#c2c2c2" stroke-width="0.7" />
<line x1="293.38" y1="271.50" x2="293.38" y2="324.60" stroke="#c2c2c2" stroke-width="0.7" />
<line x1="304.90" y1="271.50" x2="304.90" y2="324.60" stroke="#c2c2c2" stroke-width="0.7" />
<line x1="316.42" y1="271.50" x2="316.42" y2="324.60" stroke="#c2c2c2" stroke-width="0.7" />
<line x1="327.94" y1="271.50" x2="327.94" y2="324.60" stroke="#c2c2c2" stroke-width="0.7" />
<line x1="339.46" y1="271.50" x2="339.46" y2="324.60" stroke="#c2c2c2" stroke-width="0.7" />
<line x1="350.98" y1="271.50" x2="350.98" y2="324.60" stroke="#c2c2c2" stroke-width="0.7" />
<line x1="362.50" y1="271.50" x2="362.50" y2="324.60" stroke="#c2c2c2" stroke-width="0.7" />
<line x1="374.02" y1="271.50" x2="374.02" y2="324.60" stroke="#c2c2c2" stroke-width="0.7" />
<line x1="385.54" y1="271.50" x2="385.54" y2="324.60" stroke="#c2c2c2" stroke-width="0.7" />
<rect x="218.80" y="283.89" width="10.92" height="40.71" fill="#262d7d" />
<rect x="230.32" y="320.79" width="10.92" height="3.81" fill="#262d7d" />
<rect x="241.84" y="306.01" width="10.92" height="18.59" fill="#262d7d" />
<rect x="253.36" y="313.10" width="10.92" height="11.51" fill="#262d7d" />
<rect x="276.40" y="324.33" width="10.92" height="0.27" fill="#262d7d" />
<rect x="322.48" y="321.95" width="10.92" height="2.66" fill="#262d7d" />
<text x="270.34" y="321.60" font-size="5.0" text-anchor="middle" >c</text>
<text x="293.38" y="321.60" font-size="5.0" text-anchor="middle" >c</text>
<text x="304.90" y="321.60" font-size="5.0" text-anchor="middle" >c</text>
<text x="316.42" y="321.60" font-size="5.0" text-anchor="middle" >c</text>
<rect x="218.50" y="271.50" width="172.80" height="53.10" fill="none" stroke="#4d4d4f" stroke-width="1.1" />
<line x1="91.30" y1="324.60" x2="93.50" y2="324.60" stroke="#58595b" stroke-width="0.8" />
<text x="87.70" y="326.70" font-size="5.9" text-anchor="end" class="m" >0</text>
<line x1="91.30" y1="311.33" x2="93.50" y2="311.33" stroke="#58595b" stroke-width="0.8" />
<text x="87.70" y="313.43" font-size="5.9" text-anchor="end" class="m" >30</text>
<line x1="91.30" y1="298.05" x2="93.50" y2="298.05" stroke="#58595b" stroke-width="0.8" />
<text x="87.70" y="300.15" font-size="5.9" text-anchor="end" class="m" >60</text>
<line x1="91.30" y1="284.77" x2="93.50" y2="284.77" stroke="#58595b" stroke-width="0.8" />
<text x="87.70" y="286.88" font-size="5.9" text-anchor="end" class="m" >90</text>
<line x1="91.30" y1="271.50" x2="93.50" y2="271.50" stroke="#58595b" stroke-width="0.8" />
<text x="87.70" y="273.60" font-size="5.9" text-anchor="end" class="m" >120</text>
<text x="60.70" y="240.80" font-size="8.4" text-anchor="middle" transform="rotate(-90 60.70 240.80)" class="b" >CD8<tspan font-size="5.4" dy="-3">+</tspan><tspan dy="3">, %</tspan></text>
<text x="50.80" y="298.00" font-size="8.4" text-anchor="middle" transform="rotate(-90 50.80 298.00)" class="b" >PD-L1,</text>
<text x="60.70" y="298.00" font-size="8.4" text-anchor="middle" transform="rotate(-90 60.70 298.00)" class="b" >H-score</text>
<polygon points="298,402.5 346,402.5 282,413.2" fill="#e4e4e5"/>
<polygon points="93.50,402.50 105.02,402.50 162.62,425.80 93.50,425.80" fill="#d1d2d4"/>
<polygon points="345.22,402.50 356.74,402.50 215.18,425.80 167.50,425.80" fill="#d1d2d4"/>
<polygon points="356.74,402.50 368.26,402.50 266.38,425.80 216.90,425.80" fill="#d1d2d4"/>
<polygon points="368.26,402.50 379.78,402.50 341.32,425.80 268.40,425.80" fill="#d1d2d4"/>
<polygon points="379.78,402.50 391.30,402.50 391.68,425.80 343.60,425.80" fill="#d1d2d4"/>
<line x1="345.72" y1="402.50" x2="276.00" y2="411.80" stroke="#ffffff" stroke-width="1.0" />
<rect x="93.50" y="328.50" width="12.12" height="6.77" fill="#6593cb" />
<rect x="93.50" y="334.67" width="12.12" height="6.77" fill="#a9c7e2" />
<rect x="93.50" y="340.83" width="12.12" height="6.77" fill="#c1d9ed" />
<rect x="93.50" y="347.00" width="12.12" height="6.77" fill="#a4c6df" />
<rect x="93.50" y="353.17" width="12.12" height="6.77" fill="#759fce" />
<rect x="93.50" y="359.33" width="12.12" height="6.77" fill="#76a0cf" />
<rect x="93.50" y="365.50" width="12.12" height="6.77" fill="#a3c5df" />
<rect x="93.50" y="371.67" width="12.12" height="6.77" fill="#a1c4de" />
<rect x="93.50" y="377.83" width="12.12" height="6.77" fill="#5685c4" />
<rect x="93.50" y="384.00" width="12.12" height="6.77" fill="#6893cb" />
<rect x="93.50" y="390.17" width="12.12" height="6.77" fill="#fde99a" />
<rect x="93.50" y="396.33" width="12.12" height="6.17" fill="#f4f0c7" />
<rect x="105.02" y="328.50" width="12.12" height="6.77" fill="#4675ba" />
<rect x="105.02" y="334.67" width="12.12" height="6.77" fill="#4675ba" />
<rect x="105.02" y="340.83" width="12.12" height="6.77" fill="#4675ba" />
<rect x="105.02" y="347.00" width="12.12" height="6.77" fill="#4675ba" />
<rect x="105.02" y="353.17" width="12.12" height="6.77" fill="#4675ba" />
<rect x="105.02" y="359.33" width="12.12" height="6.77" fill="#4675ba" />
<rect x="105.02" y="365.50" width="12.12" height="6.77" fill="#4675ba" />
<rect x="105.02" y="371.67" width="12.12" height="6.77" fill="#4675ba" />
<rect x="105.02" y="377.83" width="12.12" height="6.77" fill="#4675ba" />
<rect x="105.02" y="384.00" width="12.12" height="6.77" fill="#4675ba" />
<rect x="105.02" y="390.17" width="12.12" height="6.77" fill="#4675ba" />
<rect x="105.02" y="396.33" width="12.12" height="6.17" fill="#a1c2e1" />
<rect x="116.54" y="328.50" width="12.12" height="6.77" fill="#77a1d0" />
<rect x="116.54" y="334.67" width="12.12" height="6.77" fill="#b3d1e6" />
<rect x="116.54" y="340.83" width="12.12" height="6.77" fill="#c9e0ef" />
<rect x="116.54" y="347.00" width="12.12" height="6.77" fill="#abcce4" />
<rect x="116.54" y="353.17" width="12.12" height="6.77" fill="#7ba3d0" />
<rect x="116.54" y="359.33" width="12.12" height="6.77" fill="#97bcdc" />
<rect x="116.54" y="365.50" width="12.12" height="6.77" fill="#abcce4" />
<rect x="116.54" y="371.67" width="12.12" height="6.77" fill="#abcce4" />
<rect x="116.54" y="377.83" width="12.12" height="6.77" fill="#6a95cc" />
<rect x="116.54" y="384.00" width="12.12" height="6.77" fill="#6994cb" />
<rect x="116.54" y="390.17" width="12.12" height="6.77" fill="#eef3e0" />
<rect x="116.54" y="396.33" width="12.12" height="6.17" fill="#eef1d8" />
<rect x="128.06" y="328.50" width="12.12" height="6.77" fill="#719bce" />
<rect x="128.06" y="334.67" width="12.12" height="6.77" fill="#abcce4" />
<rect x="128.06" y="340.83" width="12.12" height="6.77" fill="#afcee6" />
<rect x="128.06" y="347.00" width="12.12" height="6.77" fill="#e1eef7" />
<rect x="128.06" y="353.17" width="12.12" height="6.77" fill="#79a1d1" />
<rect x="128.06" y="359.33" width="12.12" height="6.77" fill="#abcce4" />
<rect x="128.06" y="365.50" width="12.12" height="6.77" fill="#88add6" />
<rect x="128.06" y="371.67" width="12.12" height="6.77" fill="#a4c6e1" />
<rect x="128.06" y="377.83" width="12.12" height="6.77" fill="#7ba3d0" />
<rect x="128.06" y="384.00" width="12.12" height="6.77" fill="#5583c4" />
<rect x="128.06" y="390.17" width="12.12" height="6.77" fill="#a3c5df" />
<rect x="128.06" y="396.33" width="12.12" height="6.17" fill="#d1e4f1" />
<rect x="139.58" y="328.50" width="12.12" height="6.77" fill="#8ab0d7" />
<rect x="139.58" y="334.67" width="12.12" height="6.77" fill="#4d7cbe" />
<rect x="139.58" y="340.83" width="12.12" height="6.77" fill="#6a95cb" />
<rect x="139.58" y="347.00" width="12.12" height="6.77" fill="#4675ba" />
<rect x="139.58" y="353.17" width="12.12" height="6.77" fill="#4b79bd" />
<rect x="139.58" y="359.33" width="12.12" height="6.77" fill="#4675ba" />
<rect x="139.58" y="365.50" width="12.12" height="6.77" fill="#4675ba" />
<rect x="139.58" y="371.67" width="12.12" height="6.77" fill="#4675ba" />
<rect x="139.58" y="377.83" width="12.12" height="6.77" fill="#4675ba" />
<rect x="139.58" y="384.00" width="12.12" height="6.77" fill="#4675ba" />
<rect x="139.58" y="390.17" width="12.12" height="6.77" fill="#a0c3df" />
<rect x="139.58" y="396.33" width="12.12" height="6.17" fill="#b0cee6" />
<rect x="151.10" y="328.50" width="11.52" height="6.77" fill="#f1f5e5" />
<rect x="151.10" y="334.67" width="11.52" height="6.77" fill="#fde7a0" />
<rect x="151.10" y="340.83" width="11.52" height="6.77" fill="#b3d1e6" />
<rect x="151.10" y="347.00" width="11.52" height="6.77" fill="#8ab0d7" />
<rect x="151.10" y="353.17" width="11.52" height="6.77" fill="#e7f2ef" />
<rect x="151.10" y="359.33" width="11.52" height="6.77" fill="#fbe9a8" />
<rect x="151.10" y="365.50" width="11.52" height="6.77" fill="#f7f0c5" />
<rect x="151.10" y="371.67" width="11.52" height="6.77" fill="#f1f3dc" />
<rect x="151.10" y="377.83" width="11.52" height="6.77" fill="#b3d1e6" />
<rect x="151.10" y="384.00" width="11.52" height="6.77" fill="#a0c3df" />
<rect x="151.10" y="390.17" width="11.52" height="6.77" fill="#fde79a" />
<rect x="151.10" y="396.33" width="11.52" height="6.17" fill="#fdd88a" />
<rect x="93.50" y="328.50" width="69.12" height="74.00" fill="none" stroke="#3a3a3a" stroke-width="0.9" />
<rect x="167.50" y="328.50" width="12.12" height="6.77" fill="#c5deee" />
<rect x="167.50" y="334.67" width="12.12" height="6.77" fill="#c7dfee" />
<rect x="167.50" y="340.83" width="12.12" height="6.77" fill="#cbe2f0" />
<rect x="167.50" y="347.00" width="12.12" height="6.77" fill="#5988c4" />
<rect x="167.50" y="353.17" width="12.12" height="6.77" fill="#d2e5f1" />
<rect x="167.50" y="359.33" width="12.12" height="6.77" fill="#c1daec" />
<rect x="167.50" y="365.50" width="12.12" height="6.77" fill="#c9e0ef" />
<rect x="167.50" y="371.67" width="12.12" height="6.77" fill="#d2e6f2" />
<rect x="167.50" y="377.83" width="12.12" height="6.77" fill="#a3c5df" />
<rect x="167.50" y="384.00" width="12.12" height="6.77" fill="#6893cb" />
<rect x="167.50" y="390.17" width="12.12" height="6.77" fill="#e9f3ec" />
<rect x="167.50" y="396.33" width="12.12" height="6.17" fill="#fde496" />
<rect x="179.02" y="328.50" width="12.12" height="6.77" fill="#f8f4d2" />
<rect x="179.02" y="334.67" width="12.12" height="6.77" fill="#fbf0c0" />
<rect x="179.02" y="340.83" width="12.12" height="6.77" fill="#faf0c8" />
<rect x="179.02" y="347.00" width="12.12" height="6.77" fill="#f3f6ea" />
<rect x="179.02" y="353.17" width="12.12" height="6.77" fill="#c5d8e8" />
<rect x="179.02" y="359.33" width="12.12" height="6.77" fill="#d2e5f1" />
<rect x="179.02" y="365.50" width="12.12" height="6.77" fill="#d9e9f3" />
<rect x="179.02" y="371.67" width="12.12" height="6.77" fill="#ddecf5" />
<rect x="179.02" y="377.83" width="12.12" height="6.77" fill="#a0c3df" />
<rect x="179.02" y="384.00" width="12.12" height="6.77" fill="#a3c7df" />
<rect x="179.02" y="390.17" width="12.12" height="6.77" fill="#fde8a5" />
<rect x="179.02" y="396.33" width="12.12" height="6.17" fill="#fbb466" />
<rect x="190.54" y="328.50" width="12.12" height="6.77" fill="#5a88c5" />
<rect x="190.54" y="334.67" width="12.12" height="6.77" fill="#6893cb" />
<rect x="190.54" y="340.83" width="12.12" height="6.77" fill="#507ebf" />
<rect x="190.54" y="347.00" width="12.12" height="6.77" fill="#638fc8" />
<rect x="190.54" y="353.17" width="12.12" height="6.77" fill="#5380c0" />
<rect x="190.54" y="359.33" width="12.12" height="6.77" fill="#6591c9" />
<rect x="190.54" y="365.50" width="12.12" height="6.77" fill="#6591c9" />
<rect x="190.54" y="371.67" width="12.12" height="6.77" fill="#6893cb" />
<rect x="190.54" y="377.83" width="12.12" height="6.77" fill="#4675ba" />
<rect x="190.54" y="384.00" width="12.12" height="6.77" fill="#4675ba" />
<rect x="190.54" y="390.17" width="12.12" height="6.77" fill="#87b1d7" />
<rect x="190.54" y="396.33" width="12.12" height="6.17" fill="#9ec2df" />
<rect x="202.06" y="328.50" width="11.52" height="6.77" fill="#7ba3d0" />
<rect x="202.06" y="334.67" width="11.52" height="6.77" fill="#4d7bbe" />
<rect x="202.06" y="340.83" width="11.52" height="6.77" fill="#7ba3d0" />
<rect x="202.06" y="347.00" width="11.52" height="6.77" fill="#4b79bd" />
<rect x="202.06" y="353.17" width="11.52" height="6.77" fill="#4675ba" />
<rect x="202.06" y="359.33" width="11.52" height="6.77" fill="#4675ba" />
<rect x="202.06" y="365.50" width="11.52" height="6.77" fill="#4675ba" />
<rect x="202.06" y="371.67" width="11.52" height="6.77" fill="#6893cb" />
<rect x="202.06" y="377.83" width="11.52" height="6.77" fill="#4675ba" />
<rect x="202.06" y="384.00" width="11.52" height="6.77" fill="#4675ba" />
<rect x="202.06" y="390.17" width="11.52" height="6.77" fill="#87aed5" />
<rect x="202.06" y="396.33" width="11.52" height="6.17" fill="#99bedd" />
<rect x="167.50" y="328.50" width="46.08" height="74.00" fill="none" stroke="#3a3a3a" stroke-width="0.9" />
<rect x="218.50" y="328.50" width="12.12" height="6.77" fill="#fdd983" />
<rect x="218.50" y="334.67" width="12.12" height="6.77" fill="#ddeaf1" />
<rect x="218.50" y="340.83" width="12.12" height="6.77" fill="#f6efc3" />
<rect x="218.50" y="347.00" width="12.12" height="6.77" fill="#f9efc0" />
<rect x="218.50" y="353.17" width="12.12" height="6.77" fill="#f7f0c8" />
<rect x="218.50" y="359.33" width="12.12" height="6.77" fill="#f9efbe" />
<rect x="218.50" y="365.50" width="12.12" height="6.77" fill="#faf0c0" />
<rect x="218.50" y="371.67" width="12.12" height="6.77" fill="#fcefb0" />
<rect x="218.50" y="377.83" width="12.12" height="6.77" fill="#a4c5df" />
<rect x="218.50" y="384.00" width="12.12" height="6.77" fill="#cbe1f0" />
<rect x="218.50" y="390.17" width="12.12" height="6.77" fill="#fdc776" />
<rect x="218.50" y="396.33" width="12.12" height="6.17" fill="#f07a45" />
<rect x="230.02" y="328.50" width="12.12" height="6.77" fill="#eef4ea" />
<rect x="230.02" y="334.67" width="12.12" height="6.77" fill="#7ba3d0" />
<rect x="230.02" y="340.83" width="12.12" height="6.77" fill="#759fce" />
<rect x="230.02" y="347.00" width="12.12" height="6.77" fill="#5180c0" />
<rect x="230.02" y="353.17" width="12.12" height="6.77" fill="#82abd5" />
<rect x="230.02" y="359.33" width="12.12" height="6.77" fill="#7aa2d0" />
<rect x="230.02" y="365.50" width="12.12" height="6.77" fill="#7aa2d0" />
<rect x="230.02" y="371.67" width="12.12" height="6.77" fill="#759fce" />
<rect x="230.02" y="377.83" width="12.12" height="6.77" fill="#507ebf" />
<rect x="230.02" y="384.00" width="12.12" height="6.77" fill="#507ebf" />
<rect x="230.02" y="390.17" width="12.12" height="6.77" fill="#a0c3df" />
<rect x="230.02" y="396.33" width="12.12" height="6.17" fill="#eef4ea" />
<rect x="241.54" y="328.50" width="12.12" height="6.77" fill="#a4c6e1" />
<rect x="241.54" y="334.67" width="12.12" height="6.77" fill="#c5ddec" />
<rect x="241.54" y="340.83" width="12.12" height="6.77" fill="#c1daec" />
<rect x="241.54" y="347.00" width="12.12" height="6.77" fill="#aecee4" />
<rect x="241.54" y="353.17" width="12.12" height="6.77" fill="#a4c6df" />
<rect x="241.54" y="359.33" width="12.12" height="6.77" fill="#c1daec" />
<rect x="241.54" y="365.50" width="12.12" height="6.77" fill="#b8d4e8" />
<rect x="241.54" y="371.67" width="12.12" height="6.77" fill="#bfd7eb" />
<rect x="241.54" y="377.83" width="12.12" height="6.77" fill="#7ba3d0" />
<rect x="241.54" y="384.00" width="12.12" height="6.77" fill="#6893cb" />
<rect x="241.54" y="390.17" width="12.12" height="6.77" fill="#fdeaa0" />
<rect x="241.54" y="396.33" width="12.12" height="6.17" fill="#fde69a" />
<rect x="253.06" y="328.50" width="12.12" height="6.77" fill="#fcebaa" />
<rect x="253.06" y="334.67" width="12.12" height="6.77" fill="#d2e5f1" />
<rect x="253.06" y="340.83" width="12.12" height="6.77" fill="#d8e9f3" />
<rect x="253.06" y="347.00" width="12.12" height="6.77" fill="#eef1dc" />
<rect x="253.06" y="353.17" width="12.12" height="6.77" fill="#cbe1f0" />
<rect x="253.06" y="359.33" width="12.12" height="6.77" fill="#d3e6f1" />
<rect x="253.06" y="365.50" width="12.12" height="6.77" fill="#d9eaf4" />
<rect x="253.06" y="371.67" width="12.12" height="6.77" fill="#d9eaf4" />
<rect x="253.06" y="377.83" width="12.12" height="6.77" fill="#79a1d1" />
<rect x="253.06" y="384.00" width="12.12" height="6.77" fill="#afcee6" />
<rect x="253.06" y="390.17" width="12.12" height="6.77" fill="#fdcd7c" />
<rect x="253.06" y="396.33" width="12.12" height="6.17" fill="#f28048" />
<rect x="264.58" y="328.50" width="12.12" height="6.77" fill="#eef4ea" />
<rect x="264.58" y="334.67" width="12.12" height="6.77" fill="#a5c7e1" />
<rect x="264.58" y="340.83" width="12.12" height="6.77" fill="#d2e5f1" />
<rect x="264.58" y="347.00" width="12.12" height="6.77" fill="#97bcdc" />
<rect x="264.58" y="353.17" width="12.12" height="6.77" fill="#4675ba" />
<rect x="264.58" y="359.33" width="12.12" height="6.77" fill="#99bedd" />
<rect x="264.58" y="365.50" width="12.12" height="6.77" fill="#a4c6df" />
<rect x="264.58" y="371.67" width="12.12" height="6.77" fill="#a4c6df" />
<rect x="264.58" y="377.83" width="12.12" height="6.77" fill="#6893cb" />
<rect x="264.58" y="384.00" width="12.12" height="6.77" fill="#4675ba" />
<rect x="264.58" y="390.17" width="12.12" height="6.77" fill="#fdf0b5" />
<rect x="264.58" y="396.33" width="12.12" height="6.17" fill="#fdbb6c" />
<rect x="276.10" y="328.50" width="12.12" height="6.77" fill="#4d7cbe" />
<rect x="276.10" y="334.67" width="12.12" height="6.77" fill="#9ec2df" />
<rect x="276.10" y="340.83" width="12.12" height="6.77" fill="#9ec2df" />
<rect x="276.10" y="347.00" width="12.12" height="6.77" fill="#a5c7e1" />
<rect x="276.10" y="353.17" width="12.12" height="6.77" fill="#7ba3d0" />
<rect x="276.10" y="359.33" width="12.12" height="6.77" fill="#a4c6df" />
<rect x="276.10" y="365.50" width="12.12" height="6.77" fill="#a4c6df" />
<rect x="276.10" y="371.67" width="12.12" height="6.77" fill="#a4c6df" />
<rect x="276.10" y="377.83" width="12.12" height="6.77" fill="#6893cb" />
<rect x="276.10" y="384.00" width="12.12" height="6.77" fill="#638fc8" />
<rect x="276.10" y="390.17" width="12.12" height="6.77" fill="#d2e5f1" />
<rect x="276.10" y="396.33" width="12.12" height="6.17" fill="#eef3e3" />
<rect x="287.62" y="328.50" width="12.12" height="6.77" fill="#76a0cf" />
<rect x="287.62" y="334.67" width="12.12" height="6.77" fill="#deecf4" />
<rect x="287.62" y="340.83" width="12.12" height="6.77" fill="#d6e8f2" />
<rect x="287.62" y="347.00" width="12.12" height="6.77" fill="#a4c6df" />
<rect x="287.62" y="353.17" width="12.12" height="6.77" fill="#7ba3d0" />
<rect x="287.62" y="359.33" width="12.12" height="6.77" fill="#a4c6df" />
<rect x="287.62" y="365.50" width="12.12" height="6.77" fill="#deecf4" />
<rect x="287.62" y="371.67" width="12.12" height="6.77" fill="#afcee6" />
<rect x="287.62" y="377.83" width="12.12" height="6.77" fill="#76a0cf" />
<rect x="287.62" y="384.00" width="12.12" height="6.77" fill="#6893cb" />
<rect x="287.62" y="390.17" width="12.12" height="6.77" fill="#f0f5e5" />
<rect x="287.62" y="396.33" width="12.12" height="6.17" fill="#fcefb0" />
<rect x="299.14" y="328.50" width="12.12" height="6.77" fill="#6893cb" />
<rect x="299.14" y="334.67" width="12.12" height="6.77" fill="#94b9da" />
<rect x="299.14" y="340.83" width="12.12" height="6.77" fill="#94b9da" />
<rect x="299.14" y="347.00" width="12.12" height="6.77" fill="#a4c6df" />
<rect x="299.14" y="353.17" width="12.12" height="6.77" fill="#7ba3d0" />
<rect x="299.14" y="359.33" width="12.12" height="6.77" fill="#94b9da" />
<rect x="299.14" y="365.50" width="12.12" height="6.77" fill="#9ec2df" />
<rect x="299.14" y="371.67" width="12.12" height="6.77" fill="#a4c6df" />
<rect x="299.14" y="377.83" width="12.12" height="6.77" fill="#5988c4" />
<rect x="299.14" y="384.00" width="12.12" height="6.77" fill="#5988c4" />
<rect x="299.14" y="390.17" width="12.12" height="6.77" fill="#eef4ea" />
<rect x="299.14" y="396.33" width="12.12" height="6.17" fill="#f6efc3" />
<rect x="310.66" y="328.50" width="12.12" height="6.77" fill="#8ab0d7" />
<rect x="310.66" y="334.67" width="12.12" height="6.77" fill="#8ab0d7" />
<rect x="310.66" y="340.83" width="12.12" height="6.77" fill="#7ba3d0" />
<rect x="310.66" y="347.00" width="12.12" height="6.77" fill="#8ab0d7" />
<rect x="310.66" y="353.17" width="12.12" height="6.77" fill="#7ba3d0" />
<rect x="310.66" y="359.33" width="12.12" height="6.77" fill="#759fce" />
<rect x="310.66" y="365.50" width="12.12" height="6.77" fill="#759fce" />
<rect x="310.66" y="371.67" width="12.12" height="6.77" fill="#8ab0d7" />
<rect x="310.66" y="377.83" width="12.12" height="6.77" fill="#638fc8" />
<rect x="310.66" y="384.00" width="12.12" height="6.77" fill="#638fc8" />
<rect x="310.66" y="390.17" width="12.12" height="6.77" fill="#e3f0f6" />
<rect x="310.66" y="396.33" width="12.12" height="6.17" fill="#97bcd9" />
<rect x="322.18" y="328.50" width="12.12" height="6.77" fill="#6893cb" />
<rect x="322.18" y="334.67" width="12.12" height="6.77" fill="#759fce" />
<rect x="322.18" y="340.83" width="12.12" height="6.77" fill="#6893cb" />
<rect x="322.18" y="347.00" width="12.12" height="6.77" fill="#6893cb" />
<rect x="322.18" y="353.17" width="12.12" height="6.77" fill="#759fce" />
<rect x="322.18" y="359.33" width="12.12" height="6.77" fill="#6893cb" />
<rect x="322.18" y="365.50" width="12.12" height="6.77" fill="#7ba3d0" />
<rect x="322.18" y="371.67" width="12.12" height="6.77" fill="#759fce" />
<rect x="322.18" y="377.83" width="12.12" height="6.77" fill="#507ebf" />
<rect x="322.18" y="384.00" width="12.12" height="6.77" fill="#507ebf" />
<rect x="322.18" y="390.17" width="12.12" height="6.77" fill="#d2e5f1" />
<rect x="322.18" y="396.33" width="12.12" height="6.17" fill="#e6f0e8" />
<rect x="333.70" y="328.50" width="12.12" height="6.77" fill="#afd0e6" />
<rect x="333.70" y="334.67" width="12.12" height="6.77" fill="#6893cb" />
<rect x="333.70" y="340.83" width="12.12" height="6.77" fill="#6893cb" />
<rect x="333.70" y="347.00" width="12.12" height="6.77" fill="#6893cb" />
<rect x="333.70" y="353.17" width="12.12" height="6.77" fill="#638fc8" />
<rect x="333.70" y="359.33" width="12.12" height="6.77" fill="#6893cb" />
<rect x="333.70" y="365.50" width="12.12" height="6.77" fill="#9ec2df" />
<rect x="333.70" y="371.67" width="12.12" height="6.77" fill="#9ec2df" />
<rect x="333.70" y="377.83" width="12.12" height="6.77" fill="#507ebf" />
<rect x="333.70" y="384.00" width="12.12" height="6.77" fill="#507ebf" />
<rect x="333.70" y="390.17" width="12.12" height="6.77" fill="#a4c6df" />
<rect x="333.70" y="396.33" width="12.12" height="6.17" fill="#9ec2df" />
<rect x="345.22" y="328.50" width="12.12" height="6.77" fill="#507ebf" />
<rect x="345.22" y="334.67" width="12.12" height="6.77" fill="#6893cb" />
<rect x="345.22" y="340.83" width="12.12" height="6.77" fill="#507ebf" />
<rect x="345.22" y="347.00" width="12.12" height="6.77" fill="#4b79bd" />
<rect x="345.22" y="353.17" width="12.12" height="6.77" fill="#638fc8" />
<rect x="345.22" y="359.33" width="12.12" height="6.77" fill="#507ebf" />
<rect x="345.22" y="365.50" width="12.12" height="6.77" fill="#507ebf" />
<rect x="345.22" y="371.67" width="12.12" height="6.77" fill="#507ebf" />
<rect x="345.22" y="377.83" width="12.12" height="6.77" fill="#4675ba" />
<rect x="345.22" y="384.00" width="12.12" height="6.77" fill="#4675ba" />
<rect x="345.22" y="390.17" width="12.12" height="6.77" fill="#9ec2df" />
<rect x="345.22" y="396.33" width="12.12" height="6.17" fill="#7ba3d0" />
<rect x="356.74" y="328.50" width="12.12" height="6.77" fill="#507ebf" />
<rect x="356.74" y="334.67" width="12.12" height="6.77" fill="#507ebf" />
<rect x="356.74" y="340.83" width="12.12" height="6.77" fill="#507ebf" />
<rect x="356.74" y="347.00" width="12.12" height="6.77" fill="#507ebf" />
<rect x="356.74" y="353.17" width="12.12" height="6.77" fill="#507ebf" />
<rect x="356.74" y="359.33" width="12.12" height="6.77" fill="#507ebf" />
<rect x="356.74" y="365.50" width="12.12" height="6.77" fill="#507ebf" />
<rect x="356.74" y="371.67" width="12.12" height="6.77" fill="#507ebf" />
<rect x="356.74" y="377.83" width="12.12" height="6.77" fill="#4675ba" />
<rect x="356.74" y="384.00" width="12.12" height="6.77" fill="#4675ba" />
<rect x="356.74" y="390.17" width="12.12" height="6.77" fill="#87aed5" />
<rect x="356.74" y="396.33" width="12.12" height="6.17" fill="#6993cb" />
<rect x="368.26" y="328.50" width="12.12" height="6.77" fill="#6893cb" />
<rect x="368.26" y="334.67" width="12.12" height="6.77" fill="#6893cb" />
<rect x="368.26" y="340.83" width="12.12" height="6.77" fill="#8ab0d7" />
<rect x="368.26" y="347.00" width="12.12" height="6.77" fill="#507ebf" />
<rect x="368.26" y="353.17" width="12.12" height="6.77" fill="#4b79bd" />
<rect x="368.26" y="359.33" width="12.12" height="6.77" fill="#8ab0d7" />
<rect x="368.26" y="365.50" width="12.12" height="6.77" fill="#8ab0d7" />
<rect x="368.26" y="371.67" width="12.12" height="6.77" fill="#7ba3d0" />
<rect x="368.26" y="377.83" width="12.12" height="6.77" fill="#4b79bd" />
<rect x="368.26" y="384.00" width="12.12" height="6.77" fill="#4b79bd" />
<rect x="368.26" y="390.17" width="12.12" height="6.77" fill="#759fce" />
<rect x="368.26" y="396.33" width="12.12" height="6.17" fill="#5581c1" />
<rect x="379.78" y="328.50" width="11.52" height="6.77" fill="#d2e5f1" />
<rect x="379.78" y="334.67" width="11.52" height="6.77" fill="#ddedf5" />
<rect x="379.78" y="340.83" width="11.52" height="6.77" fill="#eef6f0" />
<rect x="379.78" y="347.00" width="11.52" height="6.77" fill="#a4c6df" />
<rect x="379.78" y="353.17" width="11.52" height="6.77" fill="#d2e5f1" />
<rect x="379.78" y="359.33" width="11.52" height="6.77" fill="#e3f0f6" />
<rect x="379.78" y="365.50" width="11.52" height="6.77" fill="#d2e5f1" />
<rect x="379.78" y="371.67" width="11.52" height="6.77" fill="#d9eaf4" />
<rect x="379.78" y="377.83" width="11.52" height="6.77" fill="#8ab0d7" />
<rect x="379.78" y="384.00" width="11.52" height="6.77" fill="#6893cb" />
<rect x="379.78" y="390.17" width="11.52" height="6.77" fill="#d2e5f1" />
<rect x="379.78" y="396.33" width="11.52" height="6.17" fill="#eef4e5" />
<rect x="218.50" y="328.50" width="172.80" height="74.00" fill="none" stroke="#3a3a3a" stroke-width="0.9" />
<line x1="91.30" y1="331.58" x2="93.50" y2="331.58" stroke="#58595b" stroke-width="0.8" />
<text x="87.70" y="333.78" font-size="6.3" text-anchor="end" font-style="italic" class="b">IDO1</text>
<line x1="91.30" y1="337.75" x2="93.50" y2="337.75" stroke="#58595b" stroke-width="0.8" />
<text x="87.70" y="339.95" font-size="6.3" text-anchor="end" font-style="italic" class="b">CD8A</text>
<line x1="91.30" y1="343.92" x2="93.50" y2="343.92" stroke="#58595b" stroke-width="0.8" />
<text x="87.70" y="346.12" font-size="6.3" text-anchor="end" font-style="italic" class="b">CD274</text>
<line x1="91.30" y1="350.08" x2="93.50" y2="350.08" stroke="#58595b" stroke-width="0.8" />
<text x="87.70" y="352.28" font-size="6.3" text-anchor="end" font-style="italic" class="b">GZMB</text>
<line x1="91.30" y1="356.25" x2="93.50" y2="356.25" stroke="#58595b" stroke-width="0.8" />
<text x="87.70" y="358.45" font-size="6.3" text-anchor="end" font-style="italic" class="b">PDCD1</text>
<line x1="91.30" y1="362.42" x2="93.50" y2="362.42" stroke="#58595b" stroke-width="0.8" />
<text x="87.70" y="364.62" font-size="6.3" text-anchor="end" font-style="italic" class="b">CD8B</text>
<line x1="91.30" y1="368.58" x2="93.50" y2="368.58" stroke="#58595b" stroke-width="0.8" />
<text x="87.70" y="370.78" font-size="6.3" text-anchor="end" font-style="italic" class="b">GZMA</text>
<line x1="91.30" y1="374.75" x2="93.50" y2="374.75" stroke="#58595b" stroke-width="0.8" />
<text x="87.70" y="376.95" font-size="6.3" text-anchor="end" font-style="italic" class="b">PRF1</text>
<line x1="91.30" y1="380.92" x2="93.50" y2="380.92" stroke="#58595b" stroke-width="0.8" />
<text x="87.70" y="383.12" font-size="6.3" text-anchor="end" font-style="italic" class="b">TBX21</text>
<line x1="91.30" y1="387.08" x2="93.50" y2="387.08" stroke="#58595b" stroke-width="0.8" />
<text x="87.70" y="389.28" font-size="6.3" text-anchor="end" font-style="italic" class="b">IFNG</text>
<line x1="91.30" y1="393.25" x2="93.50" y2="393.25" stroke="#58595b" stroke-width="0.8" />
<text x="87.70" y="395.45" font-size="6.3" text-anchor="end" font-style="italic" class="b">CXCL10</text>
<line x1="91.30" y1="399.42" x2="93.50" y2="399.42" stroke="#58595b" stroke-width="0.8" />
<text x="87.70" y="401.62" font-size="6.3" text-anchor="end" font-style="italic" class="b">CXCL9</text>
<rect x="391.30" y="328.50" width="14.40" height="74.00" fill="#d9d9d9" stroke="#58595b" stroke-width="0.9" />
<text x="60.20" y="366.00" font-size="8.4" text-anchor="middle" transform="rotate(-90 60.20 366.00)" class="b" >Gene</text>
<text x="396.30" y="365.50" font-size="8.5" text-anchor="middle" transform="rotate(90 396.30 365.50)" class="b" >Immune activity</text>
<path d="M110.60 402.5 L110.60 404.30 Q110.60 405.3 111.60 405.3 L145.00 405.3 Q146.00 405.3 146.00 404.30 L146.00 402.5" fill="#ffffff" stroke="#4d5a6a" stroke-width="0.8"/>
<path d="M223.80 402.5 L223.80 404.30 Q223.80 405.3 224.80 405.3 L258.60 405.3 Q259.60 405.3 259.60 404.30 L259.60 402.5" fill="#ffffff" stroke="#4d5a6a" stroke-width="0.8"/>
<path d="M362.50 402.5 L362.50 404.30 Q362.50 405.3 363.50 405.3 L373.20 405.3 Q374.20 405.3 374.20 404.30 L374.20 402.5" fill="#ffffff" stroke="#4d5a6a" stroke-width="0.8"/>
<rect x="198.00" y="407.50" width="103.00" height="9.80" fill="#ffffff" />
<text x="200.40" y="416.00" font-size="8.55" class="b" >Baseline samples (<tspan font-style="italic">n</tspan> = 25)</text>
<defs><linearGradient id="cb" x1="0" y1="1" x2="0" y2="0"><stop offset="0" stop-color="#4575b4"/><stop offset="0.14" stop-color="#7aa8d5"/><stop offset="0.25" stop-color="#bcd8ea"/><stop offset="0.38" stop-color="#e8f3f3"/><stop offset="0.47" stop-color="#f7f6d5"/><stop offset="0.56" stop-color="#fdf0b0"/><stop offset="0.65" stop-color="#fed98a"/><stop offset="0.74" stop-color="#fbb168"/><stop offset="0.83" stop-color="#f6874f"/><stop offset="0.92" stop-color="#e65539"/><stop offset="1" stop-color="#d73027"/></linearGradient></defs>
<rect x="435.90" y="328.50" width="17.10" height="74.00" fill="url(#cb)" />
<line x1="435.90" y1="401.70" x2="437.60" y2="401.70" stroke="#ffffff" stroke-width="0.7" />
<line x1="451.30" y1="401.70" x2="453.00" y2="401.70" stroke="#ffffff" stroke-width="0.7" />
<text x="456.80" y="404.70" font-size="8.3" class="b" >0.0</text>
<line x1="435.90" y1="384.00" x2="437.60" y2="384.00" stroke="#ffffff" stroke-width="0.7" />
<line x1="451.30" y1="384.00" x2="453.00" y2="384.00" stroke="#ffffff" stroke-width="0.7" />
<text x="456.80" y="387.00" font-size="8.3" class="b" >2.5</text>
<line x1="435.90" y1="365.50" x2="437.60" y2="365.50" stroke="#ffffff" stroke-width="0.7" />
<line x1="451.30" y1="365.50" x2="453.00" y2="365.50" stroke="#ffffff" stroke-width="0.7" />
<text x="456.80" y="368.50" font-size="8.3" class="b" >5.0</text>
<line x1="435.90" y1="347.00" x2="437.60" y2="347.00" stroke="#ffffff" stroke-width="0.7" />
<line x1="451.30" y1="347.00" x2="453.00" y2="347.00" stroke="#ffffff" stroke-width="0.7" />
<text x="456.80" y="350.00" font-size="8.3" class="b" >7.5</text>
<line x1="435.90" y1="329.30" x2="437.60" y2="329.30" stroke="#ffffff" stroke-width="0.7" />
<line x1="451.30" y1="329.30" x2="453.00" y2="329.30" stroke="#ffffff" stroke-width="0.7" />
<text x="456.80" y="332.30" font-size="8.3" class="b" >10.0</text>
<text x="432.30" y="322.60" font-size="8.6" class="b" >Log<tspan font-size="6.0" dy="2.4">2</tspan><tspan dy="-2.4"> FPKM</tspan></text>
<text x="37.40" y="427.10" font-size="12" font-weight="bold" class="b" >E</text>
<rect x="93.50" y="427.00" width="69.12" height="16.80" fill="#4f9a58" stroke="#2b2b2b" stroke-width="0.8" />
<line x1="116.54" y1="427.00" x2="116.54" y2="443.80" stroke="#2b2b2b" stroke-width="0.8" />
<line x1="139.58" y1="427.00" x2="139.58" y2="443.80" stroke="#2b2b2b" stroke-width="0.8" />
<rect x="93.50" y="447.70" width="23.04" height="17.20" fill="#ffffff" />
<rect x="116.54" y="447.70" width="23.04" height="17.20" fill="#808285" />
<rect x="139.58" y="447.70" width="23.04" height="17.20" fill="#808285" />
<line x1="116.54" y1="447.70" x2="116.54" y2="464.90" stroke="#3a3a3a" stroke-width="0.8" />
<line x1="139.58" y1="447.70" x2="139.58" y2="464.90" stroke="#3a3a3a" stroke-width="0.8" />
<rect x="93.50" y="447.70" width="69.12" height="17.20" fill="none" stroke="#3a3a3a" stroke-width="0.9" />
<rect x="167.50" y="427.00" width="46.08" height="16.80" fill="#d4464b" stroke="#2b2b2b" stroke-width="0.8" />
<line x1="190.54" y1="427.00" x2="190.54" y2="443.80" stroke="#2b2b2b" stroke-width="0.8" />
<rect x="167.50" y="447.70" width="23.04" height="17.20" fill="#ffffff" />
<rect x="190.54" y="447.70" width="23.04" height="17.20" fill="#808285" />
<line x1="190.54" y1="447.70" x2="190.54" y2="464.90" stroke="#3a3a3a" stroke-width="0.8" />
<rect x="167.50" y="447.70" width="46.08" height="17.20" fill="none" stroke="#3a3a3a" stroke-width="0.9" />
<rect x="218.50" y="427.00" width="46.08" height="16.80" fill="#d4464b" stroke="#2b2b2b" stroke-width="0.8" />
<line x1="241.54" y1="427.00" x2="241.54" y2="443.80" stroke="#2b2b2b" stroke-width="0.8" />
<rect x="218.50" y="447.70" width="23.04" height="17.20" fill="#ffffff" />
<rect x="241.54" y="447.70" width="23.04" height="17.20" fill="#808285" />
<line x1="241.54" y1="447.70" x2="241.54" y2="464.90" stroke="#3a3a3a" stroke-width="0.8" />
<rect x="218.50" y="447.70" width="46.08" height="17.20" fill="none" stroke="#3a3a3a" stroke-width="0.9" />
<rect x="270.20" y="427.00" width="69.12" height="16.80" fill="#d4464b" stroke="#2b2b2b" stroke-width="0.8" />
<line x1="293.24" y1="427.00" x2="293.24" y2="443.80" stroke="#2b2b2b" stroke-width="0.8" />
<line x1="316.28" y1="427.00" x2="316.28" y2="443.80" stroke="#2b2b2b" stroke-width="0.8" />
<rect x="270.20" y="447.70" width="23.04" height="17.20" fill="#ffffff" />
<rect x="293.24" y="447.70" width="23.04" height="17.20" fill="#ffffff" />
<rect x="316.28" y="447.70" width="23.04" height="17.20" fill="#808285" />
<line x1="293.24" y1="447.70" x2="293.24" y2="464.90" stroke="#3a3a3a" stroke-width="0.8" />
<line x1="316.28" y1="447.70" x2="316.28" y2="464.90" stroke="#3a3a3a" stroke-width="0.8" />
<rect x="270.20" y="447.70" width="69.12" height="17.20" fill="none" stroke="#3a3a3a" stroke-width="0.9" />
<rect x="345.60" y="427.00" width="46.08" height="16.80" fill="#d4464b" stroke="#2b2b2b" stroke-width="0.8" />
<line x1="368.64" y1="427.00" x2="368.64" y2="443.80" stroke="#2b2b2b" stroke-width="0.8" />
<rect x="345.60" y="447.70" width="23.04" height="17.20" fill="#ffffff" />
<rect x="368.64" y="447.70" width="23.04" height="17.20" fill="#808285" />
<line x1="368.64" y1="447.70" x2="368.64" y2="464.90" stroke="#3a3a3a" stroke-width="0.8" />
<rect x="345.60" y="447.70" width="46.08" height="17.20" fill="none" stroke="#3a3a3a" stroke-width="0.9" />
<text x="420.20" y="445.60" font-size="8.3" class="b" >Treatment status</text>
<rect x="441.00" y="450.00" width="3.40" height="3.40" fill="#ffffff" stroke="#555" stroke-width="0.8" />
<text x="447.70" y="455.10" font-size="8.3" class="b" >Pre</text>
<rect x="441.00" y="459.20" width="3.40" height="3.40" fill="#808285" stroke="#444" stroke-width="0.8" />
<text x="447.70" y="464.30" font-size="8.3" class="b" >Post</text>
<rect x="93.50" y="469.20" width="69.12" height="51.30" fill="#ffffff" />
<line x1="93.50" y1="514.09" x2="162.62" y2="514.09" stroke="#c2c2c2" stroke-width="0.7" />
<line x1="93.50" y1="507.68" x2="162.62" y2="507.68" stroke="#c2c2c2" stroke-width="0.7" />
<line x1="93.50" y1="501.26" x2="162.62" y2="501.26" stroke="#c2c2c2" stroke-width="0.7" />
<line x1="93.50" y1="494.85" x2="162.62" y2="494.85" stroke="#c2c2c2" stroke-width="0.7" />
<line x1="93.50" y1="488.44" x2="162.62" y2="488.44" stroke="#c2c2c2" stroke-width="0.7" />
<line x1="93.50" y1="482.02" x2="162.62" y2="482.02" stroke="#c2c2c2" stroke-width="0.7" />
<line x1="93.50" y1="475.61" x2="162.62" y2="475.61" stroke="#c2c2c2" stroke-width="0.7" />
<line x1="105.02" y1="469.20" x2="105.02" y2="520.50" stroke="#c2c2c2" stroke-width="0.7" />
<line x1="128.06" y1="469.20" x2="128.06" y2="520.50" stroke="#c2c2c2" stroke-width="0.7" />
<line x1="151.10" y1="469.20" x2="151.10" y2="520.50" stroke="#c2c2c2" stroke-width="0.7" />
<rect x="93.80" y="518.70" width="22.44" height="1.80" fill="#262d7d" />
<rect x="116.84" y="507.16" width="22.44" height="13.34" fill="#262d7d" />
<rect x="139.88" y="515.37" width="22.44" height="5.13" fill="#262d7d" />
<rect x="93.50" y="469.20" width="69.12" height="51.30" fill="none" stroke="#4d4d4f" stroke-width="1.1" />
<rect x="167.50" y="469.20" width="46.08" height="51.30" fill="#ffffff" />
<line x1="167.50" y1="514.09" x2="213.58" y2="514.09" stroke="#c2c2c2" stroke-width="0.7" />
<line x1="167.50" y1="507.68" x2="213.58" y2="507.68" stroke="#c2c2c2" stroke-width="0.7" />
<line x1="167.50" y1="501.26" x2="213.58" y2="501.26" stroke="#c2c2c2" stroke-width="0.7" />
<line x1="167.50" y1="494.85" x2="213.58" y2="494.85" stroke="#c2c2c2" stroke-width="0.7" />
<line x1="167.50" y1="488.44" x2="213.58" y2="488.44" stroke="#c2c2c2" stroke-width="0.7" />
<line x1="167.50" y1="482.02" x2="213.58" y2="482.02" stroke="#c2c2c2" stroke-width="0.7" />
<line x1="167.50" y1="475.61" x2="213.58" y2="475.61" stroke="#c2c2c2" stroke-width="0.7" />
<line x1="179.02" y1="469.20" x2="179.02" y2="520.50" stroke="#c2c2c2" stroke-width="0.7" />
<line x1="202.06" y1="469.20" x2="202.06" y2="520.50" stroke="#c2c2c2" stroke-width="0.7" />
<rect x="167.80" y="519.99" width="22.44" height="0.51" fill="#262d7d" />
<rect x="190.84" y="510.24" width="22.44" height="10.26" fill="#262d7d" />
<rect x="167.50" y="469.20" width="46.08" height="51.30" fill="none" stroke="#4d4d4f" stroke-width="1.1" />
<rect x="218.50" y="469.20" width="46.08" height="51.30" fill="#ffffff" />
<line x1="218.50" y1="514.09" x2="264.58" y2="514.09" stroke="#c2c2c2" stroke-width="0.7" />
<line x1="218.50" y1="507.68" x2="264.58" y2="507.68" stroke="#c2c2c2" stroke-width="0.7" />
<line x1="218.50" y1="501.26" x2="264.58" y2="501.26" stroke="#c2c2c2" stroke-width="0.7" />
<line x1="218.50" y1="494.85" x2="264.58" y2="494.85" stroke="#c2c2c2" stroke-width="0.7" />
<line x1="218.50" y1="488.44" x2="264.58" y2="488.44" stroke="#c2c2c2" stroke-width="0.7" />
<line x1="218.50" y1="482.02" x2="264.58" y2="482.02" stroke="#c2c2c2" stroke-width="0.7" />
<line x1="218.50" y1="475.61" x2="264.58" y2="475.61" stroke="#c2c2c2" stroke-width="0.7" />
<line x1="230.02" y1="469.20" x2="230.02" y2="520.50" stroke="#c2c2c2" stroke-width="0.7" />
<line x1="253.06" y1="469.20" x2="253.06" y2="520.50" stroke="#c2c2c2" stroke-width="0.7" />
<rect x="218.50" y="469.20" width="46.08" height="51.30" fill="none" stroke="#4d4d4f" stroke-width="1.1" />
<rect x="270.20" y="469.20" width="69.12" height="51.30" fill="#ffffff" />
<line x1="270.20" y1="514.09" x2="339.32" y2="514.09" stroke="#c2c2c2" stroke-width="0.7" />
<line x1="270.20" y1="507.68" x2="339.32" y2="507.68" stroke="#c2c2c2" stroke-width="0.7" />
<line x1="270.20" y1="501.26" x2="339.32" y2="501.26" stroke="#c2c2c2" stroke-width="0.7" />
<line x1="270.20" y1="494.85" x2="339.32" y2="494.85" stroke="#c2c2c2" stroke-width="0.7" />
<line x1="270.20" y1="488.44" x2="339.32" y2="488.44" stroke="#c2c2c2" stroke-width="0.7" />
<line x1="270.20" y1="482.02" x2="339.32" y2="482.02" stroke="#c2c2c2" stroke-width="0.7" />
<line x1="270.20" y1="475.61" x2="339.32" y2="475.61" stroke="#c2c2c2" stroke-width="0.7" />
<line x1="281.72" y1="469.20" x2="281.72" y2="520.50" stroke="#c2c2c2" stroke-width="0.7" />
<line x1="304.76" y1="469.20" x2="304.76" y2="520.50" stroke="#c2c2c2" stroke-width="0.7" />
<line x1="327.80" y1="469.20" x2="327.80" y2="520.50" stroke="#c2c2c2" stroke-width="0.7" />
<rect x="270.20" y="469.20" width="69.12" height="51.30" fill="none" stroke="#4d4d4f" stroke-width="1.1" />
<rect x="345.60" y="469.20" width="46.08" height="51.30" fill="#ffffff" />
<line x1="345.60" y1="514.09" x2="391.68" y2="514.09" stroke="#c2c2c2" stroke-width="0.7" />
<line x1="345.60" y1="507.68" x2="391.68" y2="507.68" stroke="#c2c2c2" stroke-width="0.7" />
<line x1="345.60" y1="501.26" x2="391.68" y2="501.26" stroke="#c2c2c2" stroke-width="0.7" />
<line x1="345.60" y1="494.85" x2="391.68" y2="494.85" stroke="#c2c2c2" stroke-width="0.7" />
<line x1="345.60" y1="488.44" x2="391.68" y2="488.44" stroke="#c2c2c2" stroke-width="0.7" />
<line x1="345.60" y1="482.02" x2="391.68" y2="482.02" stroke="#c2c2c2" stroke-width="0.7" />
<line x1="345.60" y1="475.61" x2="391.68" y2="475.61" stroke="#c2c2c2" stroke-width="0.7" />
<line x1="357.12" y1="469.20" x2="357.12" y2="520.50" stroke="#c2c2c2" stroke-width="0.7" />
<line x1="380.16" y1="469.20" x2="380.16" y2="520.50" stroke="#c2c2c2" stroke-width="0.7" />
<rect x="345.60" y="469.20" width="46.08" height="51.30" fill="none" stroke="#4d4d4f" stroke-width="1.1" />
<line x1="91.30" y1="520.50" x2="93.50" y2="520.50" stroke="#58595b" stroke-width="0.8" />
<text x="87.70" y="522.60" font-size="5.9" text-anchor="end" class="m" >0</text>
<line x1="91.30" y1="507.68" x2="93.50" y2="507.68" stroke="#58595b" stroke-width="0.8" />
<text x="87.70" y="509.78" font-size="5.9" text-anchor="end" class="m" >25</text>
<line x1="91.30" y1="494.85" x2="93.50" y2="494.85" stroke="#58595b" stroke-width="0.8" />
<text x="87.70" y="496.95" font-size="5.9" text-anchor="end" class="m" >50</text>
<line x1="91.30" y1="482.02" x2="93.50" y2="482.02" stroke="#58595b" stroke-width="0.8" />
<text x="87.70" y="484.12" font-size="5.9" text-anchor="end" class="m" >75</text>
<line x1="91.30" y1="469.20" x2="93.50" y2="469.20" stroke="#58595b" stroke-width="0.8" />
<text x="87.70" y="471.30" font-size="5.9" text-anchor="end" class="m" >100</text>
<rect x="93.50" y="525.00" width="69.12" height="51.60" fill="#ffffff" />
<line x1="93.50" y1="570.15" x2="162.62" y2="570.15" stroke="#c2c2c2" stroke-width="0.7" />
<line x1="93.50" y1="563.70" x2="162.62" y2="563.70" stroke="#c2c2c2" stroke-width="0.7" />
<line x1="93.50" y1="557.25" x2="162.62" y2="557.25" stroke="#c2c2c2" stroke-width="0.7" />
<line x1="93.50" y1="550.80" x2="162.62" y2="550.80" stroke="#c2c2c2" stroke-width="0.7" />
<line x1="93.50" y1="544.35" x2="162.62" y2="544.35" stroke="#c2c2c2" stroke-width="0.7" />
<line x1="93.50" y1="537.90" x2="162.62" y2="537.90" stroke="#c2c2c2" stroke-width="0.7" />
<line x1="93.50" y1="531.45" x2="162.62" y2="531.45" stroke="#c2c2c2" stroke-width="0.7" />
<line x1="105.02" y1="525.00" x2="105.02" y2="576.60" stroke="#c2c2c2" stroke-width="0.7" />
<line x1="128.06" y1="525.00" x2="128.06" y2="576.60" stroke="#c2c2c2" stroke-width="0.7" />
<line x1="151.10" y1="525.00" x2="151.10" y2="576.60" stroke="#c2c2c2" stroke-width="0.7" />
<rect x="93.80" y="565.42" width="22.44" height="11.18" fill="#262d7d" />
<rect x="116.84" y="526.29" width="22.44" height="50.31" fill="#262d7d" />
<rect x="139.88" y="543.92" width="22.44" height="32.68" fill="#262d7d" />
<rect x="93.50" y="525.00" width="69.12" height="51.60" fill="none" stroke="#4d4d4f" stroke-width="1.1" />
<rect x="167.50" y="525.00" width="46.08" height="51.60" fill="#ffffff" />
<line x1="167.50" y1="570.15" x2="213.58" y2="570.15" stroke="#c2c2c2" stroke-width="0.7" />
<line x1="167.50" y1="563.70" x2="213.58" y2="563.70" stroke="#c2c2c2" stroke-width="0.7" />
<line x1="167.50" y1="557.25" x2="213.58" y2="557.25" stroke="#c2c2c2" stroke-width="0.7" />
<line x1="167.50" y1="550.80" x2="213.58" y2="550.80" stroke="#c2c2c2" stroke-width="0.7" />
<line x1="167.50" y1="544.35" x2="213.58" y2="544.35" stroke="#c2c2c2" stroke-width="0.7" />
<line x1="167.50" y1="537.90" x2="213.58" y2="537.90" stroke="#c2c2c2" stroke-width="0.7" />
<line x1="167.50" y1="531.45" x2="213.58" y2="531.45" stroke="#c2c2c2" stroke-width="0.7" />
<line x1="179.02" y1="525.00" x2="179.02" y2="576.60" stroke="#c2c2c2" stroke-width="0.7" />
<line x1="202.06" y1="525.00" x2="202.06" y2="576.60" stroke="#c2c2c2" stroke-width="0.7" />
<rect x="167.80" y="574.02" width="22.44" height="2.58" fill="#262d7d" />
<rect x="190.84" y="566.28" width="22.44" height="10.32" fill="#262d7d" />
<rect x="167.50" y="525.00" width="46.08" height="51.60" fill="none" stroke="#4d4d4f" stroke-width="1.1" />
<rect x="218.50" y="525.00" width="46.08" height="51.60" fill="#ffffff" />
<line x1="218.50" y1="570.15" x2="264.58" y2="570.15" stroke="#c2c2c2" stroke-width="0.7" />
<line x1="218.50" y1="563.70" x2="264.58" y2="563.70" stroke="#c2c2c2" stroke-width="0.7" />
<line x1="218.50" y1="557.25" x2="264.58" y2="557.25" stroke="#c2c2c2" stroke-width="0.7" />
<line x1="218.50" y1="550.80" x2="264.58" y2="550.80" stroke="#c2c2c2" stroke-width="0.7" />
<line x1="218.50" y1="544.35" x2="264.58" y2="544.35" stroke="#c2c2c2" stroke-width="0.7" />
<line x1="218.50" y1="537.90" x2="264.58" y2="537.90" stroke="#c2c2c2" stroke-width="0.7" />
<line x1="218.50" y1="531.45" x2="264.58" y2="531.45" stroke="#c2c2c2" stroke-width="0.7" />
<line x1="230.02" y1="525.00" x2="230.02" y2="576.60" stroke="#c2c2c2" stroke-width="0.7" />
<line x1="253.06" y1="525.00" x2="253.06" y2="576.60" stroke="#c2c2c2" stroke-width="0.7" />
<rect x="241.84" y="576.17" width="22.44" height="0.43" fill="#262d7d" />
<rect x="218.50" y="525.00" width="46.08" height="51.60" fill="none" stroke="#4d4d4f" stroke-width="1.1" />
<rect x="270.20" y="525.00" width="69.12" height="51.60" fill="#ffffff" />
<line x1="270.20" y1="570.15" x2="339.32" y2="570.15" stroke="#c2c2c2" stroke-width="0.7" />
<line x1="270.20" y1="563.70" x2="339.32" y2="563.70" stroke="#c2c2c2" stroke-width="0.7" />
<line x1="270.20" y1="557.25" x2="339.32" y2="557.25" stroke="#c2c2c2" stroke-width="0.7" />
<line x1="270.20" y1="550.80" x2="339.32" y2="550.80" stroke="#c2c2c2" stroke-width="0.7" />
<line x1="270.20" y1="544.35" x2="339.32" y2="544.35" stroke="#c2c2c2" stroke-width="0.7" />
<line x1="270.20" y1="537.90" x2="339.32" y2="537.90" stroke="#c2c2c2" stroke-width="0.7" />
<line x1="270.20" y1="531.45" x2="339.32" y2="531.45" stroke="#c2c2c2" stroke-width="0.7" />
<line x1="281.72" y1="525.00" x2="281.72" y2="576.60" stroke="#c2c2c2" stroke-width="0.7" />
<line x1="304.76" y1="525.00" x2="304.76" y2="576.60" stroke="#c2c2c2" stroke-width="0.7" />
<line x1="327.80" y1="525.00" x2="327.80" y2="576.60" stroke="#c2c2c2" stroke-width="0.7" />
<rect x="270.20" y="525.00" width="69.12" height="51.60" fill="none" stroke="#4d4d4f" stroke-width="1.1" />
<rect x="345.60" y="525.00" width="46.08" height="51.60" fill="#ffffff" />
<line x1="345.60" y1="570.15" x2="391.68" y2="570.15" stroke="#c2c2c2" stroke-width="0.7" />
<line x1="345.60" y1="563.70" x2="391.68" y2="563.70" stroke="#c2c2c2" stroke-width="0.7" />
<line x1="345.60" y1="557.25" x2="391.68" y2="557.25" stroke="#c2c2c2" stroke-width="0.7" />
<line x1="345.60" y1="550.80" x2="391.68" y2="550.80" stroke="#c2c2c2" stroke-width="0.7" />
<line x1="345.60" y1="544.35" x2="391.68" y2="544.35" stroke="#c2c2c2" stroke-width="0.7" />
<line x1="345.60" y1="537.90" x2="391.68" y2="537.90" stroke="#c2c2c2" stroke-width="0.7" />
<line x1="345.60" y1="531.45" x2="391.68" y2="531.45" stroke="#c2c2c2" stroke-width="0.7" />
<line x1="357.12" y1="525.00" x2="357.12" y2="576.60" stroke="#c2c2c2" stroke-width="0.7" />
<line x1="380.16" y1="525.00" x2="380.16" y2="576.60" stroke="#c2c2c2" stroke-width="0.7" />
<rect x="345.60" y="525.00" width="46.08" height="51.60" fill="none" stroke="#4d4d4f" stroke-width="1.1" />
<line x1="91.30" y1="576.60" x2="93.50" y2="576.60" stroke="#58595b" stroke-width="0.8" />
<text x="87.70" y="578.70" font-size="5.9" text-anchor="end" class="m" >0</text>
<line x1="91.30" y1="563.70" x2="93.50" y2="563.70" stroke="#58595b" stroke-width="0.8" />
<text x="87.70" y="565.80" font-size="5.9" text-anchor="end" class="m" >30</text>
<line x1="91.30" y1="550.80" x2="93.50" y2="550.80" stroke="#58595b" stroke-width="0.8" />
<text x="87.70" y="552.90" font-size="5.9" text-anchor="end" class="m" >60</text>
<line x1="91.30" y1="537.90" x2="93.50" y2="537.90" stroke="#58595b" stroke-width="0.8" />
<text x="87.70" y="540.00" font-size="5.9" text-anchor="end" class="m" >90</text>
<line x1="91.30" y1="525.00" x2="93.50" y2="525.00" stroke="#58595b" stroke-width="0.8" />
<text x="87.70" y="527.10" font-size="5.9" text-anchor="end" class="m" >120</text>
<text x="60.70" y="495.00" font-size="8.4" text-anchor="middle" transform="rotate(-90 60.70 495.00)" class="b" >CD8<tspan font-size="5.4" dy="-3">+</tspan><tspan dy="3">, %</tspan></text>
<text x="50.80" y="551.00" font-size="8.4" text-anchor="middle" transform="rotate(-90 50.80 551.00)" class="b" >PD-L1,</text>
<text x="60.70" y="551.00" font-size="8.4" text-anchor="middle" transform="rotate(-90 60.70 551.00)" class="b" >H-score</text>
<rect x="93.50" y="580.60" width="23.64" height="7.22" fill="#5987c5" />
<rect x="93.50" y="587.22" width="23.64" height="7.22" fill="#a4c5df" />
<rect x="93.50" y="593.83" width="23.64" height="7.22" fill="#bdd7eb" />
<rect x="93.50" y="600.45" width="23.64" height="7.22" fill="#a4c5df" />
<rect x="93.50" y="607.07" width="23.64" height="7.22" fill="#6893cb" />
<rect x="93.50" y="613.68" width="23.64" height="7.22" fill="#759fce" />
<rect x="93.50" y="620.30" width="23.64" height="7.22" fill="#8db3d8" />
<rect x="93.50" y="626.92" width="23.64" height="7.22" fill="#8db3d8" />
<rect x="93.50" y="633.53" width="23.64" height="7.22" fill="#4b79bd" />
<rect x="93.50" y="640.15" width="23.64" height="7.22" fill="#4b79bd" />
<rect x="93.50" y="646.77" width="23.64" height="7.22" fill="#fdf0b5" />
<rect x="93.50" y="653.38" width="23.64" height="6.62" fill="#fdeeb5" />
<rect x="116.54" y="580.60" width="23.64" height="7.22" fill="#e3eff6" />
<rect x="116.54" y="587.22" width="23.64" height="7.22" fill="#d9eaf4" />
<rect x="116.54" y="593.83" width="23.64" height="7.22" fill="#f6f3d0" />
<rect x="116.54" y="600.45" width="23.64" height="7.22" fill="#f8f1c5" />
<rect x="116.54" y="607.07" width="23.64" height="7.22" fill="#cbe1f0" />
<rect x="116.54" y="613.68" width="23.64" height="7.22" fill="#afcee6" />
<rect x="116.54" y="620.30" width="23.64" height="7.22" fill="#e3f0f6" />
<rect x="116.54" y="626.92" width="23.64" height="7.22" fill="#f3f3dc" />
<rect x="116.54" y="633.53" width="23.64" height="7.22" fill="#7ba3d0" />
<rect x="116.54" y="640.15" width="23.64" height="7.22" fill="#9ec2df" />
<rect x="116.54" y="646.77" width="23.64" height="7.22" fill="#f6905a" />
<rect x="116.54" y="653.38" width="23.64" height="6.62" fill="#fdc078" />
<rect x="139.58" y="580.60" width="23.04" height="7.22" fill="#e3f0f6" />
<rect x="139.58" y="587.22" width="23.04" height="7.22" fill="#f0f5e8" />
<rect x="139.58" y="593.83" width="23.04" height="7.22" fill="#f6f3d0" />
<rect x="139.58" y="600.45" width="23.04" height="7.22" fill="#f4f1cf" />
<rect x="139.58" y="607.07" width="23.04" height="7.22" fill="#bcd7eb" />
<rect x="139.58" y="613.68" width="23.04" height="7.22" fill="#afcee6" />
<rect x="139.58" y="620.30" width="23.04" height="7.22" fill="#cbe1f0" />
<rect x="139.58" y="626.92" width="23.04" height="7.22" fill="#f0f5e5" />
<rect x="139.58" y="633.53" width="23.04" height="7.22" fill="#7ba3d0" />
<rect x="139.58" y="640.15" width="23.04" height="7.22" fill="#9ec2df" />
<rect x="139.58" y="646.77" width="23.04" height="7.22" fill="#fba868" />
<rect x="139.58" y="653.38" width="23.04" height="6.62" fill="#fba868" />
<rect x="93.50" y="580.60" width="69.12" height="79.40" fill="none" stroke="#3a3a3a" stroke-width="0.9" />
<rect x="167.50" y="580.60" width="23.64" height="7.22" fill="#759fce" />
<rect x="167.50" y="587.22" width="23.64" height="7.22" fill="#6893cb" />
<rect x="167.50" y="593.83" width="23.64" height="7.22" fill="#6893cb" />
<rect x="167.50" y="600.45" width="23.64" height="7.22" fill="#6591c9" />
<rect x="167.50" y="607.07" width="23.64" height="7.22" fill="#6893cb" />
<rect x="167.50" y="613.68" width="23.64" height="7.22" fill="#6893cb" />
<rect x="167.50" y="620.30" width="23.64" height="7.22" fill="#6893cb" />
<rect x="167.50" y="626.92" width="23.64" height="7.22" fill="#6893cb" />
<rect x="167.50" y="633.53" width="23.64" height="7.22" fill="#4b79bd" />
<rect x="167.50" y="640.15" width="23.64" height="7.22" fill="#4b79bd" />
<rect x="167.50" y="646.77" width="23.64" height="7.22" fill="#cbe1f0" />
<rect x="167.50" y="653.38" width="23.64" height="6.62" fill="#d5e8f2" />
<rect x="190.54" y="580.60" width="23.04" height="7.22" fill="#c1daec" />
<rect x="190.54" y="587.22" width="23.04" height="7.22" fill="#f0f5e5" />
<rect x="190.54" y="593.83" width="23.04" height="7.22" fill="#a4c6df" />
<rect x="190.54" y="600.45" width="23.04" height="7.22" fill="#cbe1f0" />
<rect x="190.54" y="607.07" width="23.04" height="7.22" fill="#d2e5f1" />
<rect x="190.54" y="613.68" width="23.04" height="7.22" fill="#d9eaf4" />
<rect x="190.54" y="620.30" width="23.04" height="7.22" fill="#e3f0f6" />
<rect x="190.54" y="626.92" width="23.04" height="7.22" fill="#eef5ea" />
<rect x="190.54" y="633.53" width="23.04" height="7.22" fill="#9ec2df" />
<rect x="190.54" y="640.15" width="23.04" height="7.22" fill="#94b9da" />
<rect x="190.54" y="646.77" width="23.04" height="7.22" fill="#fde18e" />
<rect x="190.54" y="653.38" width="23.04" height="6.62" fill="#fdc078" />
<rect x="167.50" y="580.60" width="46.08" height="79.40" fill="none" stroke="#3a3a3a" stroke-width="0.9" />
<rect x="218.50" y="580.60" width="23.64" height="7.22" fill="#507ebf" />
<rect x="218.50" y="587.22" width="23.64" height="7.22" fill="#5e8bc6" />
<rect x="218.50" y="593.83" width="23.64" height="7.22" fill="#5e8bc6" />
<rect x="218.50" y="600.45" width="23.64" height="7.22" fill="#507ebf" />
<rect x="218.50" y="607.07" width="23.64" height="7.22" fill="#507ebf" />
<rect x="218.50" y="613.68" width="23.64" height="7.22" fill="#5583c2" />
<rect x="218.50" y="620.30" width="23.64" height="7.22" fill="#5583c2" />
<rect x="218.50" y="626.92" width="23.64" height="7.22" fill="#507ebf" />
<rect x="218.50" y="633.53" width="23.64" height="7.22" fill="#4b79bd" />
<rect x="218.50" y="640.15" width="23.64" height="7.22" fill="#4b79bd" />
<rect x="218.50" y="646.77" width="23.64" height="7.22" fill="#88aed6" />
<rect x="218.50" y="653.38" width="23.64" height="6.62" fill="#6893cb" />
<rect x="241.54" y="580.60" width="23.04" height="7.22" fill="#507ebf" />
<rect x="241.54" y="587.22" width="23.04" height="7.22" fill="#4b79bd" />
<rect x="241.54" y="593.83" width="23.04" height="7.22" fill="#4b79bd" />
<rect x="241.54" y="600.45" width="23.04" height="7.22" fill="#5e8bc6" />
<rect x="241.54" y="607.07" width="23.04" height="7.22" fill="#507ebf" />
<rect x="241.54" y="613.68" width="23.04" height="7.22" fill="#507ebf" />
<rect x="241.54" y="620.30" width="23.04" height="7.22" fill="#507ebf" />
<rect x="241.54" y="626.92" width="23.04" height="7.22" fill="#507ebf" />
<rect x="241.54" y="633.53" width="23.04" height="7.22" fill="#4b79bd" />
<rect x="241.54" y="640.15" width="23.04" height="7.22" fill="#4b79bd" />
<rect x="241.54" y="646.77" width="23.04" height="7.22" fill="#507ebf" />
<rect x="241.54" y="653.38" width="23.04" height="6.62" fill="#4b79bd" />
<rect x="218.50" y="580.60" width="46.08" height="79.40" fill="none" stroke="#3a3a3a" stroke-width="0.9" />
<rect x="270.20" y="580.60" width="23.64" height="7.22" fill="#4b79bd" />
<rect x="270.20" y="587.22" width="23.64" height="7.22" fill="#5987c5" />
<rect x="270.20" y="593.83" width="23.64" height="7.22" fill="#507ebf" />
<rect x="270.20" y="600.45" width="23.64" height="7.22" fill="#4b79bd" />
<rect x="270.20" y="607.07" width="23.64" height="7.22" fill="#4b79bd" />
<rect x="270.20" y="613.68" width="23.64" height="7.22" fill="#4b79bd" />
<rect x="270.20" y="620.30" width="23.64" height="7.22" fill="#4b79bd" />
<rect x="270.20" y="626.92" width="23.64" height="7.22" fill="#5987c5" />
<rect x="270.20" y="633.53" width="23.64" height="7.22" fill="#4675ba" />
<rect x="270.20" y="640.15" width="23.64" height="7.22" fill="#4675ba" />
<rect x="270.20" y="646.77" width="23.64" height="7.22" fill="#7ba3d0" />
<rect x="270.20" y="653.38" width="23.64" height="6.62" fill="#5e8bc6" />
<rect x="293.24" y="580.60" width="23.64" height="7.22" fill="#5583c2" />
<rect x="293.24" y="587.22" width="23.64" height="7.22" fill="#5e8bc6" />
<rect x="293.24" y="593.83" width="23.64" height="7.22" fill="#7ba3d0" />
<rect x="293.24" y="600.45" width="23.64" height="7.22" fill="#7ba3d0" />
<rect x="293.24" y="607.07" width="23.64" height="7.22" fill="#507ebf" />
<rect x="293.24" y="613.68" width="23.64" height="7.22" fill="#507ebf" />
<rect x="293.24" y="620.30" width="23.64" height="7.22" fill="#759fce" />
<rect x="293.24" y="626.92" width="23.64" height="7.22" fill="#6893cb" />
<rect x="293.24" y="633.53" width="23.64" height="7.22" fill="#507ebf" />
<rect x="293.24" y="640.15" width="23.64" height="7.22" fill="#4b79bd" />
<rect x="293.24" y="646.77" width="23.64" height="7.22" fill="#6893cb" />
<rect x="293.24" y="653.38" width="23.64" height="6.62" fill="#5e8bc6" />
<rect x="316.28" y="580.60" width="23.04" height="7.22" fill="#4b79bd" />
<rect x="316.28" y="587.22" width="23.04" height="7.22" fill="#507ebf" />
<rect x="316.28" y="593.83" width="23.04" height="7.22" fill="#4b79bd" />
<rect x="316.28" y="600.45" width="23.04" height="7.22" fill="#507ebf" />
<rect x="316.28" y="607.07" width="23.04" height="7.22" fill="#4b79bd" />
<rect x="316.28" y="613.68" width="23.04" height="7.22" fill="#507ebf" />
<rect x="316.28" y="620.30" width="23.04" height="7.22" fill="#4b79bd" />
<rect x="316.28" y="626.92" width="23.04" height="7.22" fill="#507ebf" />
<rect x="316.28" y="633.53" width="23.04" height="7.22" fill="#4b79bd" />
<rect x="316.28" y="640.15" width="23.04" height="7.22" fill="#4b79bd" />
<rect x="316.28" y="646.77" width="23.04" height="7.22" fill="#5e8bc6" />
<rect x="316.28" y="653.38" width="23.04" height="6.62" fill="#5987c5" />
<rect x="270.20" y="580.60" width="69.12" height="79.40" fill="none" stroke="#3a3a3a" stroke-width="0.9" />
<rect x="345.60" y="580.60" width="23.64" height="7.22" fill="#abcce4" />
<rect x="345.60" y="587.22" width="23.64" height="7.22" fill="#d4e7f2" />
<rect x="345.60" y="593.83" width="23.64" height="7.22" fill="#eef3e0" />
<rect x="345.60" y="600.45" width="23.64" height="7.22" fill="#8db1d6" />
<rect x="345.60" y="607.07" width="23.64" height="7.22" fill="#9bbedc" />
<rect x="345.60" y="613.68" width="23.64" height="7.22" fill="#d9ebf5" />
<rect x="345.60" y="620.30" width="23.64" height="7.22" fill="#c1d8e9" />
<rect x="345.60" y="626.92" width="23.64" height="7.22" fill="#bcd4e7" />
<rect x="345.60" y="633.53" width="23.64" height="7.22" fill="#7ba1cd" />
<rect x="345.60" y="640.15" width="23.64" height="7.22" fill="#5581be" />
<rect x="345.60" y="646.77" width="23.64" height="7.22" fill="#d1e4f1" />
<rect x="345.60" y="653.38" width="23.64" height="6.62" fill="#eef4e0" />
<rect x="368.64" y="580.60" width="23.04" height="7.22" fill="#6893cb" />
<rect x="368.64" y="587.22" width="23.04" height="7.22" fill="#759fce" />
<rect x="368.64" y="593.83" width="23.04" height="7.22" fill="#6893cb" />
<rect x="368.64" y="600.45" width="23.04" height="7.22" fill="#507ebf" />
<rect x="368.64" y="607.07" width="23.04" height="7.22" fill="#6893cb" />
<rect x="368.64" y="613.68" width="23.04" height="7.22" fill="#7ba3d0" />
<rect x="368.64" y="620.30" width="23.04" height="7.22" fill="#7ba3d0" />
<rect x="368.64" y="626.92" width="23.04" height="7.22" fill="#6893cb" />
<rect x="368.64" y="633.53" width="23.04" height="7.22" fill="#4675ba" />
<rect x="368.64" y="640.15" width="23.04" height="7.22" fill="#4675ba" />
<rect x="368.64" y="646.77" width="23.04" height="7.22" fill="#7ba3d0" />
<rect x="368.64" y="653.38" width="23.04" height="6.62" fill="#6893cb" />
<rect x="345.60" y="580.60" width="46.08" height="79.40" fill="none" stroke="#3a3a3a" stroke-width="0.9" />
<line x1="91.30" y1="583.91" x2="93.50" y2="583.91" stroke="#58595b" stroke-width="0.8" />
<text x="87.70" y="586.11" font-size="6.3" text-anchor="end" font-style="italic" class="b">IDO1</text>
<line x1="91.30" y1="590.52" x2="93.50" y2="590.52" stroke="#58595b" stroke-width="0.8" />
<text x="87.70" y="592.73" font-size="6.3" text-anchor="end" font-style="italic" class="b">CD8A</text>
<line x1="91.30" y1="597.14" x2="93.50" y2="597.14" stroke="#58595b" stroke-width="0.8" />
<text x="87.70" y="599.34" font-size="6.3" text-anchor="end" font-style="italic" class="b">CD274</text>
<line x1="91.30" y1="603.76" x2="93.50" y2="603.76" stroke="#58595b" stroke-width="0.8" />
<text x="87.70" y="605.96" font-size="6.3" text-anchor="end" font-style="italic" class="b">GZMB</text>
<line x1="91.30" y1="610.38" x2="93.50" y2="610.38" stroke="#58595b" stroke-width="0.8" />
<text x="87.70" y="612.58" font-size="6.3" text-anchor="end" font-style="italic" class="b">PDCD1</text>
<line x1="91.30" y1="616.99" x2="93.50" y2="616.99" stroke="#58595b" stroke-width="0.8" />
<text x="87.70" y="619.19" font-size="6.3" text-anchor="end" font-style="italic" class="b">CD8B</text>
<line x1="91.30" y1="623.61" x2="93.50" y2="623.61" stroke="#58595b" stroke-width="0.8" />
<text x="87.70" y="625.81" font-size="6.3" text-anchor="end" font-style="italic" class="b">GZMA</text>
<line x1="91.30" y1="630.23" x2="93.50" y2="630.23" stroke="#58595b" stroke-width="0.8" />
<text x="87.70" y="632.43" font-size="6.3" text-anchor="end" font-style="italic" class="b">PRF1</text>
<line x1="91.30" y1="636.84" x2="93.50" y2="636.84" stroke="#58595b" stroke-width="0.8" />
<text x="87.70" y="639.04" font-size="6.3" text-anchor="end" font-style="italic" class="b">TBX21</text>
<line x1="91.30" y1="643.46" x2="93.50" y2="643.46" stroke="#58595b" stroke-width="0.8" />
<text x="87.70" y="645.66" font-size="6.3" text-anchor="end" font-style="italic" class="b">IFNG</text>
<line x1="91.30" y1="650.08" x2="93.50" y2="650.08" stroke="#58595b" stroke-width="0.8" />
<text x="87.70" y="652.28" font-size="6.3" text-anchor="end" font-style="italic" class="b">CXCL10</text>
<line x1="91.30" y1="656.69" x2="93.50" y2="656.69" stroke="#58595b" stroke-width="0.8" />
<text x="87.70" y="658.89" font-size="6.3" text-anchor="end" font-style="italic" class="b">CXCL9</text>
<rect x="391.68" y="580.60" width="14.40" height="79.40" fill="#d9d9d9" stroke="#58595b" stroke-width="0.9" />
<text x="60.20" y="620.00" font-size="8.4" text-anchor="middle" transform="rotate(-90 60.20 620.00)" class="b" >Gene</text>
<text x="396.30" y="620.00" font-size="8.5" text-anchor="middle" transform="rotate(90 396.30 620.00)" class="b" >Immune activity</text>
</svg>
</body></html>
